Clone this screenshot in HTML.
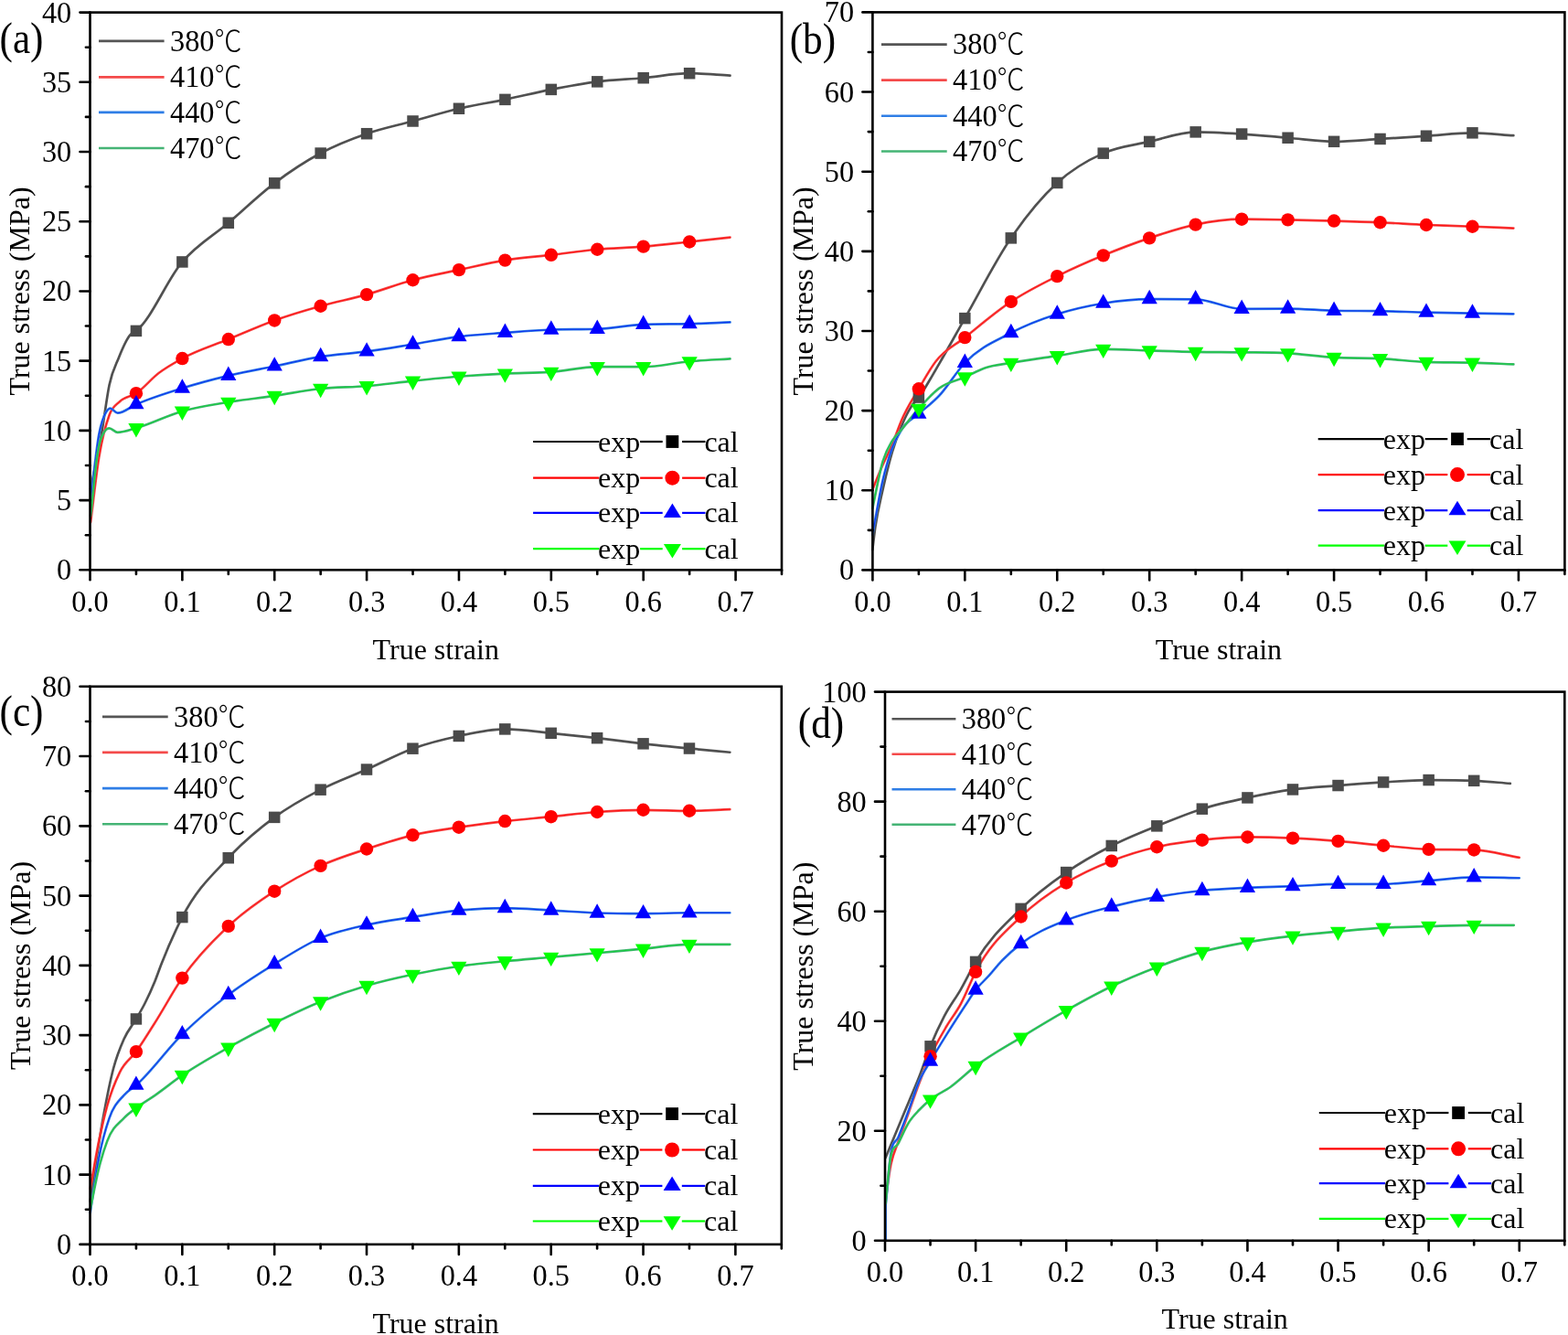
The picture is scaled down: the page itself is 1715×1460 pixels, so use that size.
<!DOCTYPE html>
<html><head><meta charset="utf-8"><title>True stress-strain curves</title>
<style>html,body{margin:0;padding:0;background:#fff;} svg{display:block;}</style>
</head><body>
<svg width="1715" height="1460" viewBox="0 0 1715 1460" font-family="'Liberation Serif','Times New Roman',serif" fill="#000">
<rect width="1715" height="1460" fill="#fff"/>
<path d="M99.10,534.69 C103.27,513.46 107.44,495.28 111.61,471.01 C114.26,455.56 116.91,433.71 119.57,420.97 C122.98,404.60 126.39,399.90 129.80,391.41 C133.97,381.03 138.14,371.13 142.31,366.39 C144.52,363.88 146.73,363.60 148.93,361.89 C165.74,348.88 182.56,306.13 199.37,286.44 C216.18,266.75 232.99,258.12 249.80,243.76 C266.61,229.41 283.42,213.02 300.23,200.32 C317.04,187.62 333.86,176.57 350.67,167.55 C367.48,158.53 384.29,152.05 401.10,146.21 C417.91,140.37 434.72,137.06 451.53,132.49 C468.34,127.92 485.16,122.71 501.97,118.77 C518.78,114.84 535.59,112.35 552.40,108.87 C569.21,105.39 586.02,101.14 602.83,97.89 C619.64,94.64 636.46,91.46 653.27,89.36 C670.08,87.25 686.89,86.76 703.70,85.24 C720.51,83.72 737.32,80.21 754.13,80.21 C768.93,80.21 783.72,81.84 798.51,82.65" fill="none" stroke="#555555" stroke-width="2.7" stroke-linejoin="round" stroke-linecap="round"/>
<path d="M99.10,534.69 C103.27,513.46 107.44,495.28 111.61,471.01 C114.26,455.56 116.91,433.71 119.57,420.97 C122.98,404.60 126.39,399.90 129.80,391.41 C133.97,381.03 138.14,371.13 142.31,366.39 C144.52,363.88 146.73,363.60 148.93,361.89 C165.74,348.88 182.56,306.13 199.37,286.44 C216.18,266.75 232.99,258.12 249.80,243.76 C266.61,229.41 283.42,213.02 300.23,200.32 C317.04,187.62 333.86,176.57 350.67,167.55 C367.48,158.53 384.29,152.05 401.10,146.21 C417.91,140.37 434.72,137.06 451.53,132.49 C468.34,127.92 485.16,122.71 501.97,118.77 C518.78,114.84 535.59,112.35 552.40,108.87 C569.21,105.39 586.02,101.14 602.83,97.89 C619.64,94.64 636.46,91.46 653.27,89.36 C670.08,87.25 686.89,86.76 703.70,85.24 C720.51,83.72 737.32,80.21 754.13,80.21 C768.93,80.21 783.72,81.84 798.51,82.65" fill="none" stroke="#4d4d4d" stroke-width="1.0" stroke-linejoin="round" stroke-linecap="round"/>
<path d="M99.10,571.07 C102.13,547.57 105.16,519.15 108.19,500.57 C111.98,477.34 115.78,464.18 119.57,453.95 C123.36,443.71 127.15,442.92 130.94,439.17 C136.94,433.23 142.93,434.18 148.93,430.18 C157.16,424.68 165.38,414.26 173.60,408.00 C182.19,401.46 190.78,396.80 199.37,392.07 C216.18,382.82 232.99,377.97 249.80,371.04 C266.61,364.10 283.42,356.51 300.23,350.46 C317.04,344.41 333.86,339.48 350.67,334.76 C367.48,330.03 384.29,326.86 401.10,322.11 C417.91,317.36 434.72,310.75 451.53,306.26 C468.34,301.76 485.16,298.74 501.97,295.13 C518.78,291.52 535.59,287.33 552.40,284.61 C569.21,281.89 586.02,280.80 602.83,278.82 C619.64,276.84 636.46,274.25 653.27,272.72 C670.08,271.20 686.89,271.05 703.70,269.67 C720.51,268.30 737.32,266.28 754.13,264.49 C768.93,262.92 783.72,261.24 798.51,259.61" fill="none" stroke="#f44a4a" stroke-width="2.7" stroke-linejoin="round" stroke-linecap="round"/>
<path d="M99.10,571.07 C102.13,547.57 105.16,519.15 108.19,500.57 C111.98,477.34 115.78,464.18 119.57,453.95 C123.36,443.71 127.15,442.92 130.94,439.17 C136.94,433.23 142.93,434.18 148.93,430.18 C157.16,424.68 165.38,414.26 173.60,408.00 C182.19,401.46 190.78,396.80 199.37,392.07 C216.18,382.82 232.99,377.97 249.80,371.04 C266.61,364.10 283.42,356.51 300.23,350.46 C317.04,344.41 333.86,339.48 350.67,334.76 C367.48,330.03 384.29,326.86 401.10,322.11 C417.91,317.36 434.72,310.75 451.53,306.26 C468.34,301.76 485.16,298.74 501.97,295.13 C518.78,291.52 535.59,287.33 552.40,284.61 C569.21,281.89 586.02,280.80 602.83,278.82 C619.64,276.84 636.46,274.25 653.27,272.72 C670.08,271.20 686.89,271.05 703.70,269.67 C720.51,268.30 737.32,266.28 754.13,264.49 C768.93,262.92 783.72,261.24 798.51,259.61" fill="none" stroke="#ff1010" stroke-width="1.0" stroke-linejoin="round" stroke-linecap="round"/>
<path d="M99.10,548.33 C102.13,524.07 105.16,491.96 108.19,475.55 C110.85,461.20 113.50,455.00 116.15,450.54 C117.67,447.98 119.19,446.67 120.70,446.67 C123.36,446.67 126.01,451.67 128.66,451.67 C135.42,451.67 142.18,445.15 148.93,442.22 C165.74,434.94 182.56,429.77 199.37,424.54 C216.18,419.30 232.99,414.83 249.80,410.82 C266.61,406.81 283.42,403.91 300.23,400.45 C317.04,397.00 333.86,392.76 350.67,390.09 C367.48,387.42 384.29,386.71 401.10,384.45 C417.91,382.19 434.72,379.24 451.53,376.52 C468.34,373.81 485.16,370.25 501.97,368.14 C518.78,366.03 535.59,365.14 552.40,363.87 C569.21,362.60 586.02,361.21 602.83,360.52 C619.64,359.83 636.46,360.52 653.27,359.76 C670.08,359.00 686.89,355.64 703.70,354.88 C720.51,354.12 737.32,354.57 754.13,354.12 C768.93,353.72 783.72,353.00 798.51,352.44" fill="none" stroke="#2f7ee6" stroke-width="2.7" stroke-linejoin="round" stroke-linecap="round"/>
<path d="M99.10,548.33 C102.13,524.07 105.16,491.96 108.19,475.55 C110.85,461.20 113.50,455.00 116.15,450.54 C117.67,447.98 119.19,446.67 120.70,446.67 C123.36,446.67 126.01,451.67 128.66,451.67 C135.42,451.67 142.18,445.15 148.93,442.22 C165.74,434.94 182.56,429.77 199.37,424.54 C216.18,419.30 232.99,414.83 249.80,410.82 C266.61,406.81 283.42,403.91 300.23,400.45 C317.04,397.00 333.86,392.76 350.67,390.09 C367.48,387.42 384.29,386.71 401.10,384.45 C417.91,382.19 434.72,379.24 451.53,376.52 C468.34,373.81 485.16,370.25 501.97,368.14 C518.78,366.03 535.59,365.14 552.40,363.87 C569.21,362.60 586.02,361.21 602.83,360.52 C619.64,359.83 636.46,360.52 653.27,359.76 C670.08,359.00 686.89,355.64 703.70,354.88 C720.51,354.12 737.32,354.57 754.13,354.12 C768.93,353.72 783.72,353.00 798.51,352.44" fill="none" stroke="#0c2cf0" stroke-width="1.0" stroke-linejoin="round" stroke-linecap="round"/>
<path d="M99.10,564.25 C101.75,540.75 104.40,509.29 107.06,493.75 C109.71,478.21 112.36,474.78 115.02,471.01 C116.53,468.85 118.05,468.28 119.57,468.28 C122.60,468.28 125.63,472.82 128.66,472.82 C135.42,472.82 142.18,469.96 148.93,468.13 C165.74,463.59 182.56,454.41 199.37,449.69 C216.18,444.96 232.99,442.57 249.80,439.78 C266.61,436.99 283.42,435.39 300.23,432.92 C317.04,430.46 333.86,426.77 350.67,425.00 C367.48,423.22 384.29,423.65 401.10,422.25 C417.91,420.85 434.72,418.36 451.53,416.61 C468.34,414.86 485.16,413.08 501.97,411.73 C518.78,410.39 535.59,409.35 552.40,408.53 C569.21,407.72 586.02,408.08 602.83,406.86 C619.64,405.64 636.46,401.22 653.27,401.22 C670.08,401.22 686.89,401.22 703.70,401.22 C720.51,401.22 737.32,396.78 754.13,395.27 C768.93,393.94 783.72,393.34 798.51,392.38" fill="none" stroke="#45b475" stroke-width="2.7" stroke-linejoin="round" stroke-linecap="round"/>
<path d="M99.10,564.25 C101.75,540.75 104.40,509.29 107.06,493.75 C109.71,478.21 112.36,474.78 115.02,471.01 C116.53,468.85 118.05,468.28 119.57,468.28 C122.60,468.28 125.63,472.82 128.66,472.82 C135.42,472.82 142.18,469.96 148.93,468.13 C165.74,463.59 182.56,454.41 199.37,449.69 C216.18,444.96 232.99,442.57 249.80,439.78 C266.61,436.99 283.42,435.39 300.23,432.92 C317.04,430.46 333.86,426.77 350.67,425.00 C367.48,423.22 384.29,423.65 401.10,422.25 C417.91,420.85 434.72,418.36 451.53,416.61 C468.34,414.86 485.16,413.08 501.97,411.73 C518.78,410.39 535.59,409.35 552.40,408.53 C569.21,407.72 586.02,408.08 602.83,406.86 C619.64,405.64 636.46,401.22 653.27,401.22 C670.08,401.22 686.89,401.22 703.70,401.22 C720.51,401.22 737.32,396.78 754.13,395.27 C768.93,393.94 783.72,393.34 798.51,392.38" fill="none" stroke="#14d03a" stroke-width="1.0" stroke-linejoin="round" stroke-linecap="round"/>
<rect x="142.68" y="355.64" width="12.50" height="12.50" fill="#4a4a4a"/>
<rect x="193.12" y="280.19" width="12.50" height="12.50" fill="#4a4a4a"/>
<rect x="243.55" y="237.51" width="12.50" height="12.50" fill="#4a4a4a"/>
<rect x="293.98" y="194.07" width="12.50" height="12.50" fill="#4a4a4a"/>
<rect x="344.42" y="161.30" width="12.50" height="12.50" fill="#4a4a4a"/>
<rect x="394.85" y="139.96" width="12.50" height="12.50" fill="#4a4a4a"/>
<rect x="445.28" y="126.24" width="12.50" height="12.50" fill="#4a4a4a"/>
<rect x="495.72" y="112.52" width="12.50" height="12.50" fill="#4a4a4a"/>
<rect x="546.15" y="102.62" width="12.50" height="12.50" fill="#4a4a4a"/>
<rect x="596.58" y="91.64" width="12.50" height="12.50" fill="#4a4a4a"/>
<rect x="647.02" y="83.11" width="12.50" height="12.50" fill="#4a4a4a"/>
<rect x="697.45" y="78.99" width="12.50" height="12.50" fill="#4a4a4a"/>
<rect x="747.88" y="73.96" width="12.50" height="12.50" fill="#4a4a4a"/>
<circle cx="148.93" cy="430.18" r="7.20" fill="#ff0000"/>
<circle cx="199.37" cy="392.07" r="7.20" fill="#ff0000"/>
<circle cx="249.80" cy="371.04" r="7.20" fill="#ff0000"/>
<circle cx="300.23" cy="350.46" r="7.20" fill="#ff0000"/>
<circle cx="350.67" cy="334.76" r="7.20" fill="#ff0000"/>
<circle cx="401.10" cy="322.11" r="7.20" fill="#ff0000"/>
<circle cx="451.53" cy="306.26" r="7.20" fill="#ff0000"/>
<circle cx="501.97" cy="295.13" r="7.20" fill="#ff0000"/>
<circle cx="552.40" cy="284.61" r="7.20" fill="#ff0000"/>
<circle cx="602.83" cy="278.82" r="7.20" fill="#ff0000"/>
<circle cx="653.27" cy="272.72" r="7.20" fill="#ff0000"/>
<circle cx="703.70" cy="269.67" r="7.20" fill="#ff0000"/>
<circle cx="754.13" cy="264.49" r="7.20" fill="#ff0000"/>
<path d="M148.93,431.95 L157.53,447.35 L140.33,447.35 Z" fill="#0000ff"/>
<path d="M199.37,414.27 L207.97,429.67 L190.77,429.67 Z" fill="#0000ff"/>
<path d="M249.80,400.55 L258.40,415.95 L241.20,415.95 Z" fill="#0000ff"/>
<path d="M300.23,390.19 L308.83,405.59 L291.63,405.59 Z" fill="#0000ff"/>
<path d="M350.67,379.82 L359.27,395.22 L342.07,395.22 Z" fill="#0000ff"/>
<path d="M401.10,374.18 L409.70,389.58 L392.50,389.58 Z" fill="#0000ff"/>
<path d="M451.53,366.26 L460.13,381.66 L442.93,381.66 Z" fill="#0000ff"/>
<path d="M501.97,357.87 L510.57,373.27 L493.37,373.27 Z" fill="#0000ff"/>
<path d="M552.40,353.61 L561.00,369.01 L543.80,369.01 Z" fill="#0000ff"/>
<path d="M602.83,350.25 L611.43,365.65 L594.23,365.65 Z" fill="#0000ff"/>
<path d="M653.27,349.49 L661.87,364.89 L644.67,364.89 Z" fill="#0000ff"/>
<path d="M703.70,344.61 L712.30,360.01 L695.10,360.01 Z" fill="#0000ff"/>
<path d="M754.13,343.85 L762.73,359.25 L745.53,359.25 Z" fill="#0000ff"/>
<path d="M140.33,463.00 L157.53,463.00 L148.93,478.40 Z" fill="#00ff00"/>
<path d="M190.77,444.55 L207.97,444.55 L199.37,459.95 Z" fill="#00ff00"/>
<path d="M241.20,434.65 L258.40,434.65 L249.80,450.05 Z" fill="#00ff00"/>
<path d="M291.63,427.79 L308.83,427.79 L300.23,443.19 Z" fill="#00ff00"/>
<path d="M342.07,419.86 L359.27,419.86 L350.67,435.26 Z" fill="#00ff00"/>
<path d="M392.50,417.12 L409.70,417.12 L401.10,432.52 Z" fill="#00ff00"/>
<path d="M442.93,411.48 L460.13,411.48 L451.53,426.88 Z" fill="#00ff00"/>
<path d="M493.37,406.60 L510.57,406.60 L501.97,422.00 Z" fill="#00ff00"/>
<path d="M543.80,403.40 L561.00,403.40 L552.40,418.80 Z" fill="#00ff00"/>
<path d="M594.23,401.72 L611.43,401.72 L602.83,417.12 Z" fill="#00ff00"/>
<path d="M644.67,396.08 L661.87,396.08 L653.27,411.48 Z" fill="#00ff00"/>
<path d="M695.10,396.08 L712.30,396.08 L703.70,411.48 Z" fill="#00ff00"/>
<path d="M745.53,390.14 L762.73,390.14 L754.13,405.54 Z" fill="#00ff00"/>
<rect x="98.5" y="13.6" width="756.50" height="609.70" fill="none" stroke="#000" stroke-width="2.6"/>
<line x1="98.50" y1="623.30" x2="98.50" y2="634.30" stroke="#000" stroke-width="2.6" stroke-linecap="round"/>
<text transform="translate(98.50,668.50) scale(1,1.06)" text-anchor="middle" font-size="32.3">0.0</text>
<line x1="148.93" y1="623.30" x2="148.93" y2="627.90" stroke="#000" stroke-width="2.6" stroke-linecap="round"/>
<line x1="199.37" y1="623.30" x2="199.37" y2="634.30" stroke="#000" stroke-width="2.6" stroke-linecap="round"/>
<text transform="translate(199.37,668.50) scale(1,1.06)" text-anchor="middle" font-size="32.3">0.1</text>
<line x1="249.80" y1="623.30" x2="249.80" y2="627.90" stroke="#000" stroke-width="2.6" stroke-linecap="round"/>
<line x1="300.23" y1="623.30" x2="300.23" y2="634.30" stroke="#000" stroke-width="2.6" stroke-linecap="round"/>
<text transform="translate(300.23,668.50) scale(1,1.06)" text-anchor="middle" font-size="32.3">0.2</text>
<line x1="350.67" y1="623.30" x2="350.67" y2="627.90" stroke="#000" stroke-width="2.6" stroke-linecap="round"/>
<line x1="401.10" y1="623.30" x2="401.10" y2="634.30" stroke="#000" stroke-width="2.6" stroke-linecap="round"/>
<text transform="translate(401.10,668.50) scale(1,1.06)" text-anchor="middle" font-size="32.3">0.3</text>
<line x1="451.53" y1="623.30" x2="451.53" y2="627.90" stroke="#000" stroke-width="2.6" stroke-linecap="round"/>
<line x1="501.97" y1="623.30" x2="501.97" y2="634.30" stroke="#000" stroke-width="2.6" stroke-linecap="round"/>
<text transform="translate(501.97,668.50) scale(1,1.06)" text-anchor="middle" font-size="32.3">0.4</text>
<line x1="552.40" y1="623.30" x2="552.40" y2="627.90" stroke="#000" stroke-width="2.6" stroke-linecap="round"/>
<line x1="602.83" y1="623.30" x2="602.83" y2="634.30" stroke="#000" stroke-width="2.6" stroke-linecap="round"/>
<text transform="translate(602.83,668.50) scale(1,1.06)" text-anchor="middle" font-size="32.3">0.5</text>
<line x1="653.27" y1="623.30" x2="653.27" y2="627.90" stroke="#000" stroke-width="2.6" stroke-linecap="round"/>
<line x1="703.70" y1="623.30" x2="703.70" y2="634.30" stroke="#000" stroke-width="2.6" stroke-linecap="round"/>
<text transform="translate(703.70,668.50) scale(1,1.06)" text-anchor="middle" font-size="32.3">0.6</text>
<line x1="754.13" y1="623.30" x2="754.13" y2="627.90" stroke="#000" stroke-width="2.6" stroke-linecap="round"/>
<line x1="804.57" y1="623.30" x2="804.57" y2="634.30" stroke="#000" stroke-width="2.6" stroke-linecap="round"/>
<text transform="translate(804.57,668.50) scale(1,1.06)" text-anchor="middle" font-size="32.3">0.7</text>
<line x1="855.00" y1="623.30" x2="855.00" y2="627.90" stroke="#000" stroke-width="2.6" stroke-linecap="round"/>
<line x1="87.50" y1="623.30" x2="98.50" y2="623.30" stroke="#000" stroke-width="2.6" stroke-linecap="round"/>
<text transform="translate(78.20,634.30) scale(1,1.06)" text-anchor="end" font-size="32.3">0</text>
<line x1="93.90" y1="585.19" x2="98.50" y2="585.19" stroke="#000" stroke-width="2.6" stroke-linecap="round"/>
<line x1="87.50" y1="547.09" x2="98.50" y2="547.09" stroke="#000" stroke-width="2.6" stroke-linecap="round"/>
<text transform="translate(78.20,558.09) scale(1,1.06)" text-anchor="end" font-size="32.3">5</text>
<line x1="93.90" y1="508.98" x2="98.50" y2="508.98" stroke="#000" stroke-width="2.6" stroke-linecap="round"/>
<line x1="87.50" y1="470.88" x2="98.50" y2="470.88" stroke="#000" stroke-width="2.6" stroke-linecap="round"/>
<text transform="translate(78.20,481.88) scale(1,1.06)" text-anchor="end" font-size="32.3">10</text>
<line x1="93.90" y1="432.77" x2="98.50" y2="432.77" stroke="#000" stroke-width="2.6" stroke-linecap="round"/>
<line x1="87.50" y1="394.66" x2="98.50" y2="394.66" stroke="#000" stroke-width="2.6" stroke-linecap="round"/>
<text transform="translate(78.20,405.66) scale(1,1.06)" text-anchor="end" font-size="32.3">15</text>
<line x1="93.90" y1="356.56" x2="98.50" y2="356.56" stroke="#000" stroke-width="2.6" stroke-linecap="round"/>
<line x1="87.50" y1="318.45" x2="98.50" y2="318.45" stroke="#000" stroke-width="2.6" stroke-linecap="round"/>
<text transform="translate(78.20,329.45) scale(1,1.06)" text-anchor="end" font-size="32.3">20</text>
<line x1="93.90" y1="280.34" x2="98.50" y2="280.34" stroke="#000" stroke-width="2.6" stroke-linecap="round"/>
<line x1="87.50" y1="242.24" x2="98.50" y2="242.24" stroke="#000" stroke-width="2.6" stroke-linecap="round"/>
<text transform="translate(78.20,253.24) scale(1,1.06)" text-anchor="end" font-size="32.3">25</text>
<line x1="93.90" y1="204.13" x2="98.50" y2="204.13" stroke="#000" stroke-width="2.6" stroke-linecap="round"/>
<line x1="87.50" y1="166.02" x2="98.50" y2="166.02" stroke="#000" stroke-width="2.6" stroke-linecap="round"/>
<text transform="translate(78.20,177.02) scale(1,1.06)" text-anchor="end" font-size="32.3">30</text>
<line x1="93.90" y1="127.92" x2="98.50" y2="127.92" stroke="#000" stroke-width="2.6" stroke-linecap="round"/>
<line x1="87.50" y1="89.81" x2="98.50" y2="89.81" stroke="#000" stroke-width="2.6" stroke-linecap="round"/>
<text transform="translate(78.20,100.81) scale(1,1.06)" text-anchor="end" font-size="32.3">35</text>
<line x1="93.90" y1="51.71" x2="98.50" y2="51.71" stroke="#000" stroke-width="2.6" stroke-linecap="round"/>
<line x1="87.50" y1="13.60" x2="98.50" y2="13.60" stroke="#000" stroke-width="2.6" stroke-linecap="round"/>
<text transform="translate(78.20,24.60) scale(1,1.06)" text-anchor="end" font-size="32.3">40</text>
<text x="476.75" y="720.70" text-anchor="middle" font-size="32">True strain</text>
<text transform="translate(32.20,318.45) rotate(-90)" x="0" y="0" text-anchor="middle" font-size="32">True stress (MPa)</text>
<text transform="translate(-0.50,58.40) scale(0.9,1)" x="0" y="0" font-size="48">(a)</text>
<line x1="108.00" y1="44.90" x2="179.60" y2="44.90" stroke="#555555" stroke-width="2.6"/>
<text transform="translate(186.00,55.70) scale(1,1.06)" font-size="32.3">380<tspan font-family="'Liberation Serif','Noto Sans CJK SC',sans-serif" font-weight="300" font-size="30">℃</tspan></text>
<line x1="108.00" y1="84.40" x2="179.60" y2="84.40" stroke="#f44a4a" stroke-width="2.6"/>
<text transform="translate(186.00,95.20) scale(1,1.06)" font-size="32.3">410<tspan font-family="'Liberation Serif','Noto Sans CJK SC',sans-serif" font-weight="300" font-size="30">℃</tspan></text>
<line x1="108.00" y1="122.90" x2="179.60" y2="122.90" stroke="#2f7ee6" stroke-width="2.6"/>
<text transform="translate(186.00,133.70) scale(1,1.06)" font-size="32.3">440<tspan font-family="'Liberation Serif','Noto Sans CJK SC',sans-serif" font-weight="300" font-size="30">℃</tspan></text>
<line x1="108.00" y1="162.00" x2="179.60" y2="162.00" stroke="#45b475" stroke-width="2.6"/>
<text transform="translate(186.00,172.80) scale(1,1.06)" font-size="32.3">470<tspan font-family="'Liberation Serif','Noto Sans CJK SC',sans-serif" font-weight="300" font-size="30">℃</tspan></text>
<line x1="583.10" y1="483.00" x2="655.30" y2="483.00" stroke="#000000" stroke-width="2.2"/>
<text x="654.10" y="493.50" font-size="32">exp</text>
<line x1="700.10" y1="483.00" x2="724.70" y2="483.00" stroke="#000000" stroke-width="2.2"/>
<line x1="746.10" y1="483.00" x2="771.50" y2="483.00" stroke="#000000" stroke-width="2.2"/>
<rect x="728.50" y="476.10" width="13.80" height="13.80" fill="#000000"/>
<text x="770.40" y="493.50" font-size="32">cal</text>
<line x1="583.10" y1="522.70" x2="655.30" y2="522.70" stroke="#ff0000" stroke-width="2.2"/>
<text x="654.10" y="533.20" font-size="32">exp</text>
<line x1="700.10" y1="522.70" x2="724.70" y2="522.70" stroke="#ff0000" stroke-width="2.2"/>
<line x1="746.10" y1="522.70" x2="771.50" y2="522.70" stroke="#ff0000" stroke-width="2.2"/>
<circle cx="735.40" cy="522.70" r="8.00" fill="#ff0000"/>
<text x="770.40" y="533.20" font-size="32">cal</text>
<line x1="583.10" y1="560.90" x2="655.30" y2="560.90" stroke="#0000ff" stroke-width="2.2"/>
<text x="654.10" y="571.40" font-size="32">exp</text>
<line x1="700.10" y1="560.90" x2="724.70" y2="560.90" stroke="#0000ff" stroke-width="2.2"/>
<line x1="746.10" y1="560.90" x2="771.50" y2="560.90" stroke="#0000ff" stroke-width="2.2"/>
<path d="M735.40,550.57 L744.90,566.07 L725.90,566.07 Z" fill="#0000ff"/>
<text x="770.40" y="571.40" font-size="32">cal</text>
<line x1="583.10" y1="600.20" x2="655.30" y2="600.20" stroke="#00ff00" stroke-width="2.2"/>
<text x="654.10" y="610.70" font-size="32">exp</text>
<line x1="700.10" y1="600.20" x2="724.70" y2="600.20" stroke="#00ff00" stroke-width="2.2"/>
<line x1="746.10" y1="600.20" x2="771.50" y2="600.20" stroke="#00ff00" stroke-width="2.2"/>
<path d="M725.90,595.03 L744.90,595.03 L735.40,610.53 Z" fill="#00ff00"/>
<text x="770.40" y="610.70" font-size="32">cal</text>
<path d="M954.25,601.33 C955.28,593.10 956.31,584.04 957.33,576.66 C960.07,556.98 962.81,548.04 965.55,535.55 C968.98,519.94 972.41,506.09 975.83,494.44 C979.26,482.79 982.68,473.88 986.11,465.66 C989.54,457.44 992.96,450.54 996.39,445.11 C999.21,440.63 1002.04,438.39 1004.87,434.56 C1012.32,424.48 1019.77,410.49 1027.22,397.83 C1036.59,381.91 1045.96,364.59 1055.33,348.12 C1072.16,318.55 1088.98,285.05 1105.80,260.36 C1122.62,235.67 1139.44,215.43 1156.27,199.97 C1173.09,184.52 1189.91,175.15 1206.73,167.64 C1223.56,160.13 1240.38,158.80 1257.20,154.92 C1274.02,151.04 1290.84,144.38 1307.67,144.38 C1324.49,144.38 1341.31,145.49 1358.13,146.55 C1374.96,147.61 1391.78,149.36 1408.60,150.74 C1425.42,152.12 1442.24,154.83 1459.07,154.83 C1475.89,154.83 1492.71,152.97 1509.53,151.96 C1526.36,150.94 1543.18,149.84 1560.00,148.73 C1576.82,147.63 1593.64,145.33 1610.47,145.33 C1625.44,145.33 1640.41,147.25 1655.38,148.21" fill="none" stroke="#555555" stroke-width="2.7" stroke-linejoin="round" stroke-linecap="round"/>
<path d="M954.25,601.33 C955.28,593.10 956.31,584.04 957.33,576.66 C960.07,556.98 962.81,548.04 965.55,535.55 C968.98,519.94 972.41,506.09 975.83,494.44 C979.26,482.79 982.68,473.88 986.11,465.66 C989.54,457.44 992.96,450.54 996.39,445.11 C999.21,440.63 1002.04,438.39 1004.87,434.56 C1012.32,424.48 1019.77,410.49 1027.22,397.83 C1036.59,381.91 1045.96,364.59 1055.33,348.12 C1072.16,318.55 1088.98,285.05 1105.80,260.36 C1122.62,235.67 1139.44,215.43 1156.27,199.97 C1173.09,184.52 1189.91,175.15 1206.73,167.64 C1223.56,160.13 1240.38,158.80 1257.20,154.92 C1274.02,151.04 1290.84,144.38 1307.67,144.38 C1324.49,144.38 1341.31,145.49 1358.13,146.55 C1374.96,147.61 1391.78,149.36 1408.60,150.74 C1425.42,152.12 1442.24,154.83 1459.07,154.83 C1475.89,154.83 1492.71,152.97 1509.53,151.96 C1526.36,150.94 1543.18,149.84 1560.00,148.73 C1576.82,147.63 1593.64,145.33 1610.47,145.33 C1625.44,145.33 1640.41,147.25 1655.38,148.21" fill="none" stroke="#4d4d4d" stroke-width="1.0" stroke-linejoin="round" stroke-linecap="round"/>
<path d="M954.25,535.55 C957.33,528.01 960.42,520.11 963.50,512.94 C967.61,503.38 971.72,496.10 975.83,486.22 C979.26,477.99 982.68,467.46 986.11,459.50 C992.36,444.96 998.61,436.07 1004.87,425.32 C1010.95,414.87 1017.03,403.88 1023.11,395.78 C1033.85,381.45 1044.59,377.79 1055.33,369.12 C1072.16,355.53 1088.98,341.07 1105.80,329.90 C1122.62,318.73 1139.44,310.53 1156.27,302.10 C1173.09,293.68 1189.91,286.32 1206.73,279.36 C1223.56,272.40 1240.38,265.98 1257.20,260.36 C1274.02,254.74 1290.84,249.08 1307.67,245.64 C1324.49,242.19 1341.31,239.71 1358.13,239.71 C1374.96,239.71 1391.78,240.10 1408.60,240.41 C1425.42,240.71 1442.24,241.06 1459.07,241.54 C1475.89,242.02 1492.71,242.54 1509.53,243.28 C1526.36,244.02 1543.18,245.24 1560.00,245.98 C1576.82,246.72 1593.64,247.09 1610.47,247.73 C1625.44,248.29 1640.41,248.95 1655.38,249.56" fill="none" stroke="#f44a4a" stroke-width="2.7" stroke-linejoin="round" stroke-linecap="round"/>
<path d="M954.25,535.55 C957.33,528.01 960.42,520.11 963.50,512.94 C967.61,503.38 971.72,496.10 975.83,486.22 C979.26,477.99 982.68,467.46 986.11,459.50 C992.36,444.96 998.61,436.07 1004.87,425.32 C1010.95,414.87 1017.03,403.88 1023.11,395.78 C1033.85,381.45 1044.59,377.79 1055.33,369.12 C1072.16,355.53 1088.98,341.07 1105.80,329.90 C1122.62,318.73 1139.44,310.53 1156.27,302.10 C1173.09,293.68 1189.91,286.32 1206.73,279.36 C1223.56,272.40 1240.38,265.98 1257.20,260.36 C1274.02,254.74 1290.84,249.08 1307.67,245.64 C1324.49,242.19 1341.31,239.71 1358.13,239.71 C1374.96,239.71 1391.78,240.10 1408.60,240.41 C1425.42,240.71 1442.24,241.06 1459.07,241.54 C1475.89,242.02 1492.71,242.54 1509.53,243.28 C1526.36,244.02 1543.18,245.24 1560.00,245.98 C1576.82,246.72 1593.64,247.09 1610.47,247.73 C1625.44,248.29 1640.41,248.95 1655.38,249.56" fill="none" stroke="#ff1010" stroke-width="1.0" stroke-linejoin="round" stroke-linecap="round"/>
<path d="M954.25,584.88 C958.02,565.01 961.79,541.45 965.55,525.27 C968.98,510.57 972.41,499.58 975.83,490.33 C979.26,481.08 982.68,475.31 986.11,469.77 C992.36,459.67 998.61,458.24 1004.87,452.60 C1012.32,445.88 1019.77,440.68 1027.22,432.77 C1036.59,422.84 1045.96,406.70 1055.33,396.83 C1072.16,379.11 1088.98,372.94 1105.80,364.06 C1122.62,355.19 1139.44,348.97 1156.27,343.58 C1173.09,338.20 1189.91,334.48 1206.73,331.73 C1223.56,328.99 1240.38,327.11 1257.20,327.11 C1274.02,327.11 1290.84,327.11 1307.67,327.29 C1324.49,327.46 1341.31,337.83 1358.13,337.83 C1374.96,337.83 1391.78,337.57 1408.60,337.57 C1425.42,337.57 1442.24,339.31 1459.07,339.75 C1475.89,340.19 1492.71,339.87 1509.53,340.19 C1526.36,340.51 1543.18,341.26 1560.00,341.67 C1576.82,342.07 1593.64,342.34 1610.47,342.63 C1625.44,342.88 1640.41,343.09 1655.38,343.32" fill="none" stroke="#2f7ee6" stroke-width="2.7" stroke-linejoin="round" stroke-linecap="round"/>
<path d="M954.25,584.88 C958.02,565.01 961.79,541.45 965.55,525.27 C968.98,510.57 972.41,499.58 975.83,490.33 C979.26,481.08 982.68,475.31 986.11,469.77 C992.36,459.67 998.61,458.24 1004.87,452.60 C1012.32,445.88 1019.77,440.68 1027.22,432.77 C1036.59,422.84 1045.96,406.70 1055.33,396.83 C1072.16,379.11 1088.98,372.94 1105.80,364.06 C1122.62,355.19 1139.44,348.97 1156.27,343.58 C1173.09,338.20 1189.91,334.48 1206.73,331.73 C1223.56,328.99 1240.38,327.11 1257.20,327.11 C1274.02,327.11 1290.84,327.11 1307.67,327.29 C1324.49,327.46 1341.31,337.83 1358.13,337.83 C1374.96,337.83 1391.78,337.57 1408.60,337.57 C1425.42,337.57 1442.24,339.31 1459.07,339.75 C1475.89,340.19 1492.71,339.87 1509.53,340.19 C1526.36,340.51 1543.18,341.26 1560.00,341.67 C1576.82,342.07 1593.64,342.34 1610.47,342.63 C1625.44,342.88 1640.41,343.09 1655.38,343.32" fill="none" stroke="#0c2cf0" stroke-width="1.0" stroke-linejoin="round" stroke-linecap="round"/>
<path d="M954.25,556.10 C958.02,538.98 961.79,517.22 965.55,504.72 C968.98,493.35 972.41,487.93 975.83,482.11 C979.26,476.28 982.68,473.92 986.11,469.77 C992.36,462.21 998.61,453.77 1004.87,446.76 C1012.32,438.41 1019.77,430.10 1027.22,424.55 C1036.59,417.58 1045.96,416.57 1055.33,412.43 C1063.09,409.00 1070.85,404.50 1078.61,401.94 C1087.67,398.96 1096.74,398.42 1105.80,396.83 C1122.62,393.88 1139.44,391.66 1156.27,389.16 C1173.09,386.66 1189.91,381.84 1206.73,381.84 C1223.56,381.84 1240.38,382.90 1257.20,383.41 C1274.02,383.92 1290.84,384.57 1307.67,384.89 C1324.49,385.21 1341.31,385.09 1358.13,385.33 C1374.96,385.56 1391.78,385.35 1408.60,386.28 C1425.42,387.21 1442.24,389.93 1459.07,390.90 C1475.89,391.88 1492.71,391.28 1509.53,392.12 C1526.36,392.97 1543.18,395.26 1560.00,395.96 C1576.82,396.65 1593.64,396.20 1610.47,396.65 C1625.44,397.06 1640.41,397.82 1655.38,398.40" fill="none" stroke="#45b475" stroke-width="2.7" stroke-linejoin="round" stroke-linecap="round"/>
<path d="M954.25,556.10 C958.02,538.98 961.79,517.22 965.55,504.72 C968.98,493.35 972.41,487.93 975.83,482.11 C979.26,476.28 982.68,473.92 986.11,469.77 C992.36,462.21 998.61,453.77 1004.87,446.76 C1012.32,438.41 1019.77,430.10 1027.22,424.55 C1036.59,417.58 1045.96,416.57 1055.33,412.43 C1063.09,409.00 1070.85,404.50 1078.61,401.94 C1087.67,398.96 1096.74,398.42 1105.80,396.83 C1122.62,393.88 1139.44,391.66 1156.27,389.16 C1173.09,386.66 1189.91,381.84 1206.73,381.84 C1223.56,381.84 1240.38,382.90 1257.20,383.41 C1274.02,383.92 1290.84,384.57 1307.67,384.89 C1324.49,385.21 1341.31,385.09 1358.13,385.33 C1374.96,385.56 1391.78,385.35 1408.60,386.28 C1425.42,387.21 1442.24,389.93 1459.07,390.90 C1475.89,391.88 1492.71,391.28 1509.53,392.12 C1526.36,392.97 1543.18,395.26 1560.00,395.96 C1576.82,396.65 1593.64,396.20 1610.47,396.65 C1625.44,397.06 1640.41,397.82 1655.38,398.40" fill="none" stroke="#14d03a" stroke-width="1.0" stroke-linejoin="round" stroke-linecap="round"/>
<rect x="998.62" y="428.31" width="12.50" height="12.50" fill="#4a4a4a"/>
<rect x="1049.08" y="341.87" width="12.50" height="12.50" fill="#4a4a4a"/>
<rect x="1099.55" y="254.11" width="12.50" height="12.50" fill="#4a4a4a"/>
<rect x="1150.02" y="193.72" width="12.50" height="12.50" fill="#4a4a4a"/>
<rect x="1200.48" y="161.39" width="12.50" height="12.50" fill="#4a4a4a"/>
<rect x="1250.95" y="148.67" width="12.50" height="12.50" fill="#4a4a4a"/>
<rect x="1301.42" y="138.13" width="12.50" height="12.50" fill="#4a4a4a"/>
<rect x="1351.88" y="140.30" width="12.50" height="12.50" fill="#4a4a4a"/>
<rect x="1402.35" y="144.49" width="12.50" height="12.50" fill="#4a4a4a"/>
<rect x="1452.82" y="148.58" width="12.50" height="12.50" fill="#4a4a4a"/>
<rect x="1503.28" y="145.71" width="12.50" height="12.50" fill="#4a4a4a"/>
<rect x="1553.75" y="142.48" width="12.50" height="12.50" fill="#4a4a4a"/>
<rect x="1604.22" y="139.08" width="12.50" height="12.50" fill="#4a4a4a"/>
<circle cx="1004.87" cy="425.32" r="7.20" fill="#ff0000"/>
<circle cx="1055.33" cy="369.12" r="7.20" fill="#ff0000"/>
<circle cx="1105.80" cy="329.90" r="7.20" fill="#ff0000"/>
<circle cx="1156.27" cy="302.10" r="7.20" fill="#ff0000"/>
<circle cx="1206.73" cy="279.36" r="7.20" fill="#ff0000"/>
<circle cx="1257.20" cy="260.36" r="7.20" fill="#ff0000"/>
<circle cx="1307.67" cy="245.64" r="7.20" fill="#ff0000"/>
<circle cx="1358.13" cy="239.71" r="7.20" fill="#ff0000"/>
<circle cx="1408.60" cy="240.41" r="7.20" fill="#ff0000"/>
<circle cx="1459.07" cy="241.54" r="7.20" fill="#ff0000"/>
<circle cx="1509.53" cy="243.28" r="7.20" fill="#ff0000"/>
<circle cx="1560.00" cy="245.98" r="7.20" fill="#ff0000"/>
<circle cx="1610.47" cy="247.73" r="7.20" fill="#ff0000"/>
<path d="M1004.87,442.33 L1013.47,457.73 L996.27,457.73 Z" fill="#0000ff"/>
<path d="M1055.33,386.56 L1063.93,401.96 L1046.73,401.96 Z" fill="#0000ff"/>
<path d="M1105.80,353.80 L1114.40,369.20 L1097.20,369.20 Z" fill="#0000ff"/>
<path d="M1156.27,333.32 L1164.87,348.72 L1147.67,348.72 Z" fill="#0000ff"/>
<path d="M1206.73,321.47 L1215.33,336.87 L1198.13,336.87 Z" fill="#0000ff"/>
<path d="M1257.20,316.85 L1265.80,332.25 L1248.60,332.25 Z" fill="#0000ff"/>
<path d="M1307.67,317.02 L1316.27,332.42 L1299.07,332.42 Z" fill="#0000ff"/>
<path d="M1358.13,327.57 L1366.73,342.97 L1349.53,342.97 Z" fill="#0000ff"/>
<path d="M1408.60,327.30 L1417.20,342.70 L1400.00,342.70 Z" fill="#0000ff"/>
<path d="M1459.07,329.48 L1467.67,344.88 L1450.47,344.88 Z" fill="#0000ff"/>
<path d="M1509.53,329.92 L1518.13,345.32 L1500.93,345.32 Z" fill="#0000ff"/>
<path d="M1560.00,331.40 L1568.60,346.80 L1551.40,346.80 Z" fill="#0000ff"/>
<path d="M1610.47,332.36 L1619.07,347.76 L1601.87,347.76 Z" fill="#0000ff"/>
<path d="M996.27,441.63 L1013.47,441.63 L1004.87,457.03 Z" fill="#00ff00"/>
<path d="M1046.73,407.29 L1063.93,407.29 L1055.33,422.69 Z" fill="#00ff00"/>
<path d="M1097.20,391.70 L1114.40,391.70 L1105.80,407.10 Z" fill="#00ff00"/>
<path d="M1147.67,384.03 L1164.87,384.03 L1156.27,399.43 Z" fill="#00ff00"/>
<path d="M1198.13,376.71 L1215.33,376.71 L1206.73,392.11 Z" fill="#00ff00"/>
<path d="M1248.60,378.28 L1265.80,378.28 L1257.20,393.68 Z" fill="#00ff00"/>
<path d="M1299.07,379.76 L1316.27,379.76 L1307.67,395.16 Z" fill="#00ff00"/>
<path d="M1349.53,380.19 L1366.73,380.19 L1358.13,395.59 Z" fill="#00ff00"/>
<path d="M1400.00,381.15 L1417.20,381.15 L1408.60,396.55 Z" fill="#00ff00"/>
<path d="M1450.47,385.77 L1467.67,385.77 L1459.07,401.17 Z" fill="#00ff00"/>
<path d="M1500.93,386.99 L1518.13,386.99 L1509.53,402.39 Z" fill="#00ff00"/>
<path d="M1551.40,390.82 L1568.60,390.82 L1560.00,406.22 Z" fill="#00ff00"/>
<path d="M1601.87,391.52 L1619.07,391.52 L1610.47,406.92 Z" fill="#00ff00"/>
<rect x="954.4" y="13.4" width="757.00" height="610.00" fill="none" stroke="#000" stroke-width="2.6"/>
<line x1="954.40" y1="623.40" x2="954.40" y2="634.40" stroke="#000" stroke-width="2.6" stroke-linecap="round"/>
<text transform="translate(954.40,668.60) scale(1,1.06)" text-anchor="middle" font-size="32.3">0.0</text>
<line x1="1004.87" y1="623.40" x2="1004.87" y2="628.00" stroke="#000" stroke-width="2.6" stroke-linecap="round"/>
<line x1="1055.33" y1="623.40" x2="1055.33" y2="634.40" stroke="#000" stroke-width="2.6" stroke-linecap="round"/>
<text transform="translate(1055.33,668.60) scale(1,1.06)" text-anchor="middle" font-size="32.3">0.1</text>
<line x1="1105.80" y1="623.40" x2="1105.80" y2="628.00" stroke="#000" stroke-width="2.6" stroke-linecap="round"/>
<line x1="1156.27" y1="623.40" x2="1156.27" y2="634.40" stroke="#000" stroke-width="2.6" stroke-linecap="round"/>
<text transform="translate(1156.27,668.60) scale(1,1.06)" text-anchor="middle" font-size="32.3">0.2</text>
<line x1="1206.73" y1="623.40" x2="1206.73" y2="628.00" stroke="#000" stroke-width="2.6" stroke-linecap="round"/>
<line x1="1257.20" y1="623.40" x2="1257.20" y2="634.40" stroke="#000" stroke-width="2.6" stroke-linecap="round"/>
<text transform="translate(1257.20,668.60) scale(1,1.06)" text-anchor="middle" font-size="32.3">0.3</text>
<line x1="1307.67" y1="623.40" x2="1307.67" y2="628.00" stroke="#000" stroke-width="2.6" stroke-linecap="round"/>
<line x1="1358.13" y1="623.40" x2="1358.13" y2="634.40" stroke="#000" stroke-width="2.6" stroke-linecap="round"/>
<text transform="translate(1358.13,668.60) scale(1,1.06)" text-anchor="middle" font-size="32.3">0.4</text>
<line x1="1408.60" y1="623.40" x2="1408.60" y2="628.00" stroke="#000" stroke-width="2.6" stroke-linecap="round"/>
<line x1="1459.07" y1="623.40" x2="1459.07" y2="634.40" stroke="#000" stroke-width="2.6" stroke-linecap="round"/>
<text transform="translate(1459.07,668.60) scale(1,1.06)" text-anchor="middle" font-size="32.3">0.5</text>
<line x1="1509.53" y1="623.40" x2="1509.53" y2="628.00" stroke="#000" stroke-width="2.6" stroke-linecap="round"/>
<line x1="1560.00" y1="623.40" x2="1560.00" y2="634.40" stroke="#000" stroke-width="2.6" stroke-linecap="round"/>
<text transform="translate(1560.00,668.60) scale(1,1.06)" text-anchor="middle" font-size="32.3">0.6</text>
<line x1="1610.47" y1="623.40" x2="1610.47" y2="628.00" stroke="#000" stroke-width="2.6" stroke-linecap="round"/>
<line x1="1660.93" y1="623.40" x2="1660.93" y2="634.40" stroke="#000" stroke-width="2.6" stroke-linecap="round"/>
<text transform="translate(1660.93,668.60) scale(1,1.06)" text-anchor="middle" font-size="32.3">0.7</text>
<line x1="1711.40" y1="623.40" x2="1711.40" y2="628.00" stroke="#000" stroke-width="2.6" stroke-linecap="round"/>
<line x1="943.40" y1="623.40" x2="954.40" y2="623.40" stroke="#000" stroke-width="2.6" stroke-linecap="round"/>
<text transform="translate(934.10,634.40) scale(1,1.06)" text-anchor="end" font-size="32.3">0</text>
<line x1="949.80" y1="579.83" x2="954.40" y2="579.83" stroke="#000" stroke-width="2.6" stroke-linecap="round"/>
<line x1="943.40" y1="536.26" x2="954.40" y2="536.26" stroke="#000" stroke-width="2.6" stroke-linecap="round"/>
<text transform="translate(934.10,547.26) scale(1,1.06)" text-anchor="end" font-size="32.3">10</text>
<line x1="949.80" y1="492.69" x2="954.40" y2="492.69" stroke="#000" stroke-width="2.6" stroke-linecap="round"/>
<line x1="943.40" y1="449.11" x2="954.40" y2="449.11" stroke="#000" stroke-width="2.6" stroke-linecap="round"/>
<text transform="translate(934.10,460.11) scale(1,1.06)" text-anchor="end" font-size="32.3">20</text>
<line x1="949.80" y1="405.54" x2="954.40" y2="405.54" stroke="#000" stroke-width="2.6" stroke-linecap="round"/>
<line x1="943.40" y1="361.97" x2="954.40" y2="361.97" stroke="#000" stroke-width="2.6" stroke-linecap="round"/>
<text transform="translate(934.10,372.97) scale(1,1.06)" text-anchor="end" font-size="32.3">30</text>
<line x1="949.80" y1="318.40" x2="954.40" y2="318.40" stroke="#000" stroke-width="2.6" stroke-linecap="round"/>
<line x1="943.40" y1="274.83" x2="954.40" y2="274.83" stroke="#000" stroke-width="2.6" stroke-linecap="round"/>
<text transform="translate(934.10,285.83) scale(1,1.06)" text-anchor="end" font-size="32.3">40</text>
<line x1="949.80" y1="231.26" x2="954.40" y2="231.26" stroke="#000" stroke-width="2.6" stroke-linecap="round"/>
<line x1="943.40" y1="187.69" x2="954.40" y2="187.69" stroke="#000" stroke-width="2.6" stroke-linecap="round"/>
<text transform="translate(934.10,198.69) scale(1,1.06)" text-anchor="end" font-size="32.3">50</text>
<line x1="949.80" y1="144.11" x2="954.40" y2="144.11" stroke="#000" stroke-width="2.6" stroke-linecap="round"/>
<line x1="943.40" y1="100.54" x2="954.40" y2="100.54" stroke="#000" stroke-width="2.6" stroke-linecap="round"/>
<text transform="translate(934.10,111.54) scale(1,1.06)" text-anchor="end" font-size="32.3">60</text>
<line x1="949.80" y1="56.97" x2="954.40" y2="56.97" stroke="#000" stroke-width="2.6" stroke-linecap="round"/>
<line x1="943.40" y1="13.40" x2="954.40" y2="13.40" stroke="#000" stroke-width="2.6" stroke-linecap="round"/>
<text transform="translate(934.10,24.40) scale(1,1.06)" text-anchor="end" font-size="32.3">70</text>
<text x="1332.90" y="720.80" text-anchor="middle" font-size="32">True strain</text>
<text transform="translate(888.80,318.40) rotate(-90)" x="0" y="0" text-anchor="middle" font-size="32">True stress (MPa)</text>
<text transform="translate(863.70,58.60) scale(0.9,1)" x="0" y="0" font-size="48">(b)</text>
<line x1="964.00" y1="48.60" x2="1035.70" y2="48.60" stroke="#555555" stroke-width="2.6"/>
<text transform="translate(1042.10,59.40) scale(1,1.06)" font-size="32.3">380<tspan font-family="'Liberation Serif','Noto Sans CJK SC',sans-serif" font-weight="300" font-size="30">℃</tspan></text>
<line x1="964.00" y1="87.60" x2="1035.70" y2="87.60" stroke="#f44a4a" stroke-width="2.6"/>
<text transform="translate(1042.10,98.40) scale(1,1.06)" font-size="32.3">410<tspan font-family="'Liberation Serif','Noto Sans CJK SC',sans-serif" font-weight="300" font-size="30">℃</tspan></text>
<line x1="964.00" y1="126.70" x2="1035.70" y2="126.70" stroke="#2f7ee6" stroke-width="2.6"/>
<text transform="translate(1042.10,137.50) scale(1,1.06)" font-size="32.3">440<tspan font-family="'Liberation Serif','Noto Sans CJK SC',sans-serif" font-weight="300" font-size="30">℃</tspan></text>
<line x1="964.00" y1="165.50" x2="1035.70" y2="165.50" stroke="#45b475" stroke-width="2.6"/>
<text transform="translate(1042.10,176.30) scale(1,1.06)" font-size="32.3">470<tspan font-family="'Liberation Serif','Noto Sans CJK SC',sans-serif" font-weight="300" font-size="30">℃</tspan></text>
<line x1="1441.70" y1="480.10" x2="1513.90" y2="480.10" stroke="#000000" stroke-width="2.2"/>
<text x="1512.70" y="490.60" font-size="32">exp</text>
<line x1="1558.70" y1="480.10" x2="1583.30" y2="480.10" stroke="#000000" stroke-width="2.2"/>
<line x1="1604.70" y1="480.10" x2="1630.10" y2="480.10" stroke="#000000" stroke-width="2.2"/>
<rect x="1587.10" y="473.20" width="13.80" height="13.80" fill="#000000"/>
<text x="1629.00" y="490.60" font-size="32">cal</text>
<line x1="1441.70" y1="519.10" x2="1513.90" y2="519.10" stroke="#ff0000" stroke-width="2.2"/>
<text x="1512.70" y="529.60" font-size="32">exp</text>
<line x1="1558.70" y1="519.10" x2="1583.30" y2="519.10" stroke="#ff0000" stroke-width="2.2"/>
<line x1="1604.70" y1="519.10" x2="1630.10" y2="519.10" stroke="#ff0000" stroke-width="2.2"/>
<circle cx="1594.00" cy="519.10" r="8.00" fill="#ff0000"/>
<text x="1629.00" y="529.60" font-size="32">cal</text>
<line x1="1441.70" y1="558.20" x2="1513.90" y2="558.20" stroke="#0000ff" stroke-width="2.2"/>
<text x="1512.70" y="568.70" font-size="32">exp</text>
<line x1="1558.70" y1="558.20" x2="1583.30" y2="558.20" stroke="#0000ff" stroke-width="2.2"/>
<line x1="1604.70" y1="558.20" x2="1630.10" y2="558.20" stroke="#0000ff" stroke-width="2.2"/>
<path d="M1594.00,547.87 L1603.50,563.37 L1584.50,563.37 Z" fill="#0000ff"/>
<text x="1629.00" y="568.70" font-size="32">cal</text>
<line x1="1441.70" y1="596.70" x2="1513.90" y2="596.70" stroke="#00ff00" stroke-width="2.2"/>
<text x="1512.70" y="607.20" font-size="32">exp</text>
<line x1="1558.70" y1="596.70" x2="1583.30" y2="596.70" stroke="#00ff00" stroke-width="2.2"/>
<line x1="1604.70" y1="596.70" x2="1630.10" y2="596.70" stroke="#00ff00" stroke-width="2.2"/>
<path d="M1584.50,591.53 L1603.50,591.53 L1594.00,607.03 Z" fill="#00ff00"/>
<text x="1629.00" y="607.20" font-size="32">cal</text>
<path d="M98.64,1313.82 C103.34,1283.49 108.04,1248.87 112.74,1222.85 C116.53,1201.86 120.32,1182.67 124.11,1168.26 C127.90,1153.86 131.70,1145.02 135.49,1136.42 C139.96,1126.27 144.44,1122.16 148.92,1114.42 C152.02,1109.06 155.13,1103.89 158.23,1097.76 C162.02,1090.28 165.81,1082.19 169.60,1072.74 C171.87,1067.08 174.15,1060.39 176.42,1054.55 C184.06,1034.91 191.70,1017.94 199.34,1003.08 C216.15,970.37 232.95,956.45 249.76,938.25 C266.57,920.05 283.37,906.30 300.18,893.87 C316.99,881.44 333.79,872.39 350.60,863.67 C367.41,854.95 384.21,849.05 401.02,841.55 C417.83,834.05 434.63,824.77 451.44,818.67 C468.25,812.57 485.05,808.49 501.86,804.95 C518.67,801.40 535.47,797.40 552.28,797.40 C569.09,797.40 585.89,800.19 602.70,801.82 C619.51,803.45 636.31,805.24 653.12,807.16 C669.93,809.08 686.73,811.44 703.54,813.34 C720.35,815.23 737.15,816.87 753.96,818.52 C768.75,819.98 783.54,821.32 798.33,822.72" fill="none" stroke="#555555" stroke-width="2.7" stroke-linejoin="round" stroke-linecap="round"/>
<path d="M98.64,1313.82 C103.34,1283.49 108.04,1248.87 112.74,1222.85 C116.53,1201.86 120.32,1182.67 124.11,1168.26 C127.90,1153.86 131.70,1145.02 135.49,1136.42 C139.96,1126.27 144.44,1122.16 148.92,1114.42 C152.02,1109.06 155.13,1103.89 158.23,1097.76 C162.02,1090.28 165.81,1082.19 169.60,1072.74 C171.87,1067.08 174.15,1060.39 176.42,1054.55 C184.06,1034.91 191.70,1017.94 199.34,1003.08 C216.15,970.37 232.95,956.45 249.76,938.25 C266.57,920.05 283.37,906.30 300.18,893.87 C316.99,881.44 333.79,872.39 350.60,863.67 C367.41,854.95 384.21,849.05 401.02,841.55 C417.83,834.05 434.63,824.77 451.44,818.67 C468.25,812.57 485.05,808.49 501.86,804.95 C518.67,801.40 535.47,797.40 552.28,797.40 C569.09,797.40 585.89,800.19 602.70,801.82 C619.51,803.45 636.31,805.24 653.12,807.16 C669.93,809.08 686.73,811.44 703.54,813.34 C720.35,815.23 737.15,816.87 753.96,818.52 C768.75,819.98 783.54,821.32 798.33,822.72" fill="none" stroke="#4d4d4d" stroke-width="1.0" stroke-linejoin="round" stroke-linecap="round"/>
<path d="M98.64,1300.17 C101.83,1282.73 105.01,1263.30 108.19,1247.86 C111.23,1233.16 114.26,1220.17 117.29,1209.20 C121.84,1192.75 126.39,1182.18 130.94,1172.81 C136.93,1160.46 142.93,1158.46 148.92,1150.11 C155.81,1140.51 162.71,1129.12 169.60,1118.23 C179.51,1102.56 189.43,1083.91 199.34,1069.58 C216.15,1045.28 232.95,1028.73 249.76,1012.91 C266.57,997.10 283.37,985.71 300.18,974.71 C316.99,963.70 333.79,954.57 350.60,946.87 C367.41,939.17 384.21,934.08 401.02,928.49 C417.83,922.90 434.63,917.28 451.44,913.32 C468.25,909.35 485.05,907.24 501.86,904.70 C518.67,902.16 535.47,899.98 552.28,898.06 C569.09,896.14 585.89,894.86 602.70,893.18 C619.51,891.50 636.31,889.23 653.12,888.00 C669.93,886.76 686.73,885.78 703.54,885.78 C720.35,885.78 737.15,886.78 753.96,886.78 C768.75,886.78 783.54,885.66 798.33,885.10" fill="none" stroke="#f44a4a" stroke-width="2.7" stroke-linejoin="round" stroke-linecap="round"/>
<path d="M98.64,1300.17 C101.83,1282.73 105.01,1263.30 108.19,1247.86 C111.23,1233.16 114.26,1220.17 117.29,1209.20 C121.84,1192.75 126.39,1182.18 130.94,1172.81 C136.93,1160.46 142.93,1158.46 148.92,1150.11 C155.81,1140.51 162.71,1129.12 169.60,1118.23 C179.51,1102.56 189.43,1083.91 199.34,1069.58 C216.15,1045.28 232.95,1028.73 249.76,1012.91 C266.57,997.10 283.37,985.71 300.18,974.71 C316.99,963.70 333.79,954.57 350.60,946.87 C367.41,939.17 384.21,934.08 401.02,928.49 C417.83,922.90 434.63,917.28 451.44,913.32 C468.25,909.35 485.05,907.24 501.86,904.70 C518.67,902.16 535.47,899.98 552.28,898.06 C569.09,896.14 585.89,894.86 602.70,893.18 C619.51,891.50 636.31,889.23 653.12,888.00 C669.93,886.76 686.73,885.78 703.54,885.78 C720.35,885.78 737.15,886.78 753.96,886.78 C768.75,886.78 783.54,885.66 798.33,885.10" fill="none" stroke="#ff1010" stroke-width="1.0" stroke-linejoin="round" stroke-linecap="round"/>
<path d="M98.64,1326.32 C101.83,1306.24 105.01,1282.50 108.19,1266.06 C111.98,1246.48 115.78,1233.73 119.57,1222.85 C124.87,1207.61 130.18,1204.02 135.49,1197.83 C139.96,1192.60 144.44,1190.68 148.92,1186.72 C165.73,1171.85 182.53,1147.66 199.34,1131.20 C216.15,1114.74 232.95,1100.77 249.76,1087.96 C266.57,1075.14 283.37,1064.67 300.18,1054.32 C316.99,1043.98 333.79,1033.02 350.60,1025.88 C367.41,1018.74 384.21,1015.29 401.02,1011.47 C417.83,1007.64 434.63,1005.57 451.44,1002.92 C468.25,1000.28 485.05,997.24 501.86,995.60 C518.67,993.96 535.47,993.09 552.28,993.09 C569.09,993.09 585.89,994.70 602.70,995.60 C619.51,996.51 636.31,997.90 653.12,998.50 C669.93,999.10 686.73,999.19 703.54,999.19 C720.35,999.19 737.15,998.27 753.96,998.27 C768.75,998.27 783.54,998.27 798.33,998.27" fill="none" stroke="#2f7ee6" stroke-width="2.7" stroke-linejoin="round" stroke-linecap="round"/>
<path d="M98.64,1326.32 C101.83,1306.24 105.01,1282.50 108.19,1266.06 C111.98,1246.48 115.78,1233.73 119.57,1222.85 C124.87,1207.61 130.18,1204.02 135.49,1197.83 C139.96,1192.60 144.44,1190.68 148.92,1186.72 C165.73,1171.85 182.53,1147.66 199.34,1131.20 C216.15,1114.74 232.95,1100.77 249.76,1087.96 C266.57,1075.14 283.37,1064.67 300.18,1054.32 C316.99,1043.98 333.79,1033.02 350.60,1025.88 C367.41,1018.74 384.21,1015.29 401.02,1011.47 C417.83,1007.64 434.63,1005.57 451.44,1002.92 C468.25,1000.28 485.05,997.24 501.86,995.60 C518.67,993.96 535.47,993.09 552.28,993.09 C569.09,993.09 585.89,994.70 602.70,995.60 C619.51,996.51 636.31,997.90 653.12,998.50 C669.93,999.10 686.73,999.19 703.54,999.19 C720.35,999.19 737.15,998.27 753.96,998.27 C768.75,998.27 783.54,998.27 798.33,998.27" fill="none" stroke="#0c2cf0" stroke-width="1.0" stroke-linejoin="round" stroke-linecap="round"/>
<path d="M98.64,1322.91 C101.83,1307.75 105.01,1290.12 108.19,1277.43 C111.23,1265.34 114.26,1255.82 117.29,1247.86 C123.36,1231.94 129.42,1229.27 135.49,1222.85 C139.96,1218.10 144.44,1215.16 148.92,1211.73 C155.81,1206.45 162.71,1202.64 169.60,1197.83 C179.51,1190.91 189.43,1182.76 199.34,1175.96 C216.15,1164.45 232.95,1155.19 249.76,1145.69 C266.57,1136.18 283.37,1127.28 300.18,1118.92 C316.99,1110.56 333.79,1102.33 350.60,1095.51 C367.41,1088.68 384.21,1082.92 401.02,1077.97 C417.83,1073.01 434.63,1069.30 451.44,1065.76 C468.25,1062.23 485.05,1059.19 501.86,1056.77 C518.67,1054.34 535.47,1052.86 552.28,1051.20 C569.09,1049.53 585.89,1048.26 602.70,1046.77 C619.51,1045.29 636.31,1043.79 653.12,1042.28 C669.93,1040.76 686.73,1039.28 703.54,1037.70 C720.35,1036.12 737.15,1032.82 753.96,1032.82 C768.75,1032.82 783.54,1032.82 798.33,1032.82" fill="none" stroke="#45b475" stroke-width="2.7" stroke-linejoin="round" stroke-linecap="round"/>
<path d="M98.64,1322.91 C101.83,1307.75 105.01,1290.12 108.19,1277.43 C111.23,1265.34 114.26,1255.82 117.29,1247.86 C123.36,1231.94 129.42,1229.27 135.49,1222.85 C139.96,1218.10 144.44,1215.16 148.92,1211.73 C155.81,1206.45 162.71,1202.64 169.60,1197.83 C179.51,1190.91 189.43,1182.76 199.34,1175.96 C216.15,1164.45 232.95,1155.19 249.76,1145.69 C266.57,1136.18 283.37,1127.28 300.18,1118.92 C316.99,1110.56 333.79,1102.33 350.60,1095.51 C367.41,1088.68 384.21,1082.92 401.02,1077.97 C417.83,1073.01 434.63,1069.30 451.44,1065.76 C468.25,1062.23 485.05,1059.19 501.86,1056.77 C518.67,1054.34 535.47,1052.86 552.28,1051.20 C569.09,1049.53 585.89,1048.26 602.70,1046.77 C619.51,1045.29 636.31,1043.79 653.12,1042.28 C669.93,1040.76 686.73,1039.28 703.54,1037.70 C720.35,1036.12 737.15,1032.82 753.96,1032.82 C768.75,1032.82 783.54,1032.82 798.33,1032.82" fill="none" stroke="#14d03a" stroke-width="1.0" stroke-linejoin="round" stroke-linecap="round"/>
<rect x="142.67" y="1108.17" width="12.50" height="12.50" fill="#4a4a4a"/>
<rect x="193.09" y="996.83" width="12.50" height="12.50" fill="#4a4a4a"/>
<rect x="243.51" y="932.00" width="12.50" height="12.50" fill="#4a4a4a"/>
<rect x="293.93" y="887.62" width="12.50" height="12.50" fill="#4a4a4a"/>
<rect x="344.35" y="857.42" width="12.50" height="12.50" fill="#4a4a4a"/>
<rect x="394.77" y="835.30" width="12.50" height="12.50" fill="#4a4a4a"/>
<rect x="445.19" y="812.42" width="12.50" height="12.50" fill="#4a4a4a"/>
<rect x="495.61" y="798.70" width="12.50" height="12.50" fill="#4a4a4a"/>
<rect x="546.03" y="791.15" width="12.50" height="12.50" fill="#4a4a4a"/>
<rect x="596.45" y="795.57" width="12.50" height="12.50" fill="#4a4a4a"/>
<rect x="646.87" y="800.91" width="12.50" height="12.50" fill="#4a4a4a"/>
<rect x="697.29" y="807.09" width="12.50" height="12.50" fill="#4a4a4a"/>
<rect x="747.71" y="812.27" width="12.50" height="12.50" fill="#4a4a4a"/>
<circle cx="148.92" cy="1150.11" r="7.20" fill="#ff0000"/>
<circle cx="199.34" cy="1069.58" r="7.20" fill="#ff0000"/>
<circle cx="249.76" cy="1012.91" r="7.20" fill="#ff0000"/>
<circle cx="300.18" cy="974.71" r="7.20" fill="#ff0000"/>
<circle cx="350.60" cy="946.87" r="7.20" fill="#ff0000"/>
<circle cx="401.02" cy="928.49" r="7.20" fill="#ff0000"/>
<circle cx="451.44" cy="913.32" r="7.20" fill="#ff0000"/>
<circle cx="501.86" cy="904.70" r="7.20" fill="#ff0000"/>
<circle cx="552.28" cy="898.06" r="7.20" fill="#ff0000"/>
<circle cx="602.70" cy="893.18" r="7.20" fill="#ff0000"/>
<circle cx="653.12" cy="888.00" r="7.20" fill="#ff0000"/>
<circle cx="703.54" cy="885.78" r="7.20" fill="#ff0000"/>
<circle cx="753.96" cy="886.78" r="7.20" fill="#ff0000"/>
<path d="M148.92,1176.45 L157.52,1191.85 L140.32,1191.85 Z" fill="#0000ff"/>
<path d="M199.34,1120.93 L207.94,1136.33 L190.74,1136.33 Z" fill="#0000ff"/>
<path d="M249.76,1077.69 L258.36,1093.09 L241.16,1093.09 Z" fill="#0000ff"/>
<path d="M300.18,1044.06 L308.78,1059.46 L291.58,1059.46 Z" fill="#0000ff"/>
<path d="M350.60,1015.61 L359.20,1031.01 L342.00,1031.01 Z" fill="#0000ff"/>
<path d="M401.02,1001.20 L409.62,1016.60 L392.42,1016.60 Z" fill="#0000ff"/>
<path d="M451.44,992.66 L460.04,1008.06 L442.84,1008.06 Z" fill="#0000ff"/>
<path d="M501.86,985.34 L510.46,1000.74 L493.26,1000.74 Z" fill="#0000ff"/>
<path d="M552.28,982.82 L560.88,998.22 L543.68,998.22 Z" fill="#0000ff"/>
<path d="M602.70,985.34 L611.30,1000.74 L594.10,1000.74 Z" fill="#0000ff"/>
<path d="M653.12,988.23 L661.72,1003.63 L644.52,1003.63 Z" fill="#0000ff"/>
<path d="M703.54,988.92 L712.14,1004.32 L694.94,1004.32 Z" fill="#0000ff"/>
<path d="M753.96,988.01 L762.56,1003.41 L745.36,1003.41 Z" fill="#0000ff"/>
<path d="M140.32,1206.60 L157.52,1206.60 L148.92,1222.00 Z" fill="#00ff00"/>
<path d="M190.74,1170.83 L207.94,1170.83 L199.34,1186.23 Z" fill="#00ff00"/>
<path d="M241.16,1140.55 L258.36,1140.55 L249.76,1155.95 Z" fill="#00ff00"/>
<path d="M291.58,1113.79 L308.78,1113.79 L300.18,1129.19 Z" fill="#00ff00"/>
<path d="M342.00,1090.37 L359.20,1090.37 L350.60,1105.77 Z" fill="#00ff00"/>
<path d="M392.42,1072.83 L409.62,1072.83 L401.02,1088.23 Z" fill="#00ff00"/>
<path d="M442.84,1060.63 L460.04,1060.63 L451.44,1076.03 Z" fill="#00ff00"/>
<path d="M493.26,1051.63 L510.46,1051.63 L501.86,1067.03 Z" fill="#00ff00"/>
<path d="M543.68,1046.06 L560.88,1046.06 L552.28,1061.46 Z" fill="#00ff00"/>
<path d="M594.10,1041.64 L611.30,1041.64 L602.70,1057.04 Z" fill="#00ff00"/>
<path d="M644.52,1037.14 L661.72,1037.14 L653.12,1052.54 Z" fill="#00ff00"/>
<path d="M694.94,1032.57 L712.14,1032.57 L703.54,1047.97 Z" fill="#00ff00"/>
<path d="M745.36,1027.69 L762.56,1027.69 L753.96,1043.09 Z" fill="#00ff00"/>
<rect x="98.5" y="750.8" width="756.30" height="610.10" fill="none" stroke="#000" stroke-width="2.6"/>
<line x1="98.50" y1="1360.90" x2="98.50" y2="1371.90" stroke="#000" stroke-width="2.6" stroke-linecap="round"/>
<text transform="translate(98.50,1406.10) scale(1,1.06)" text-anchor="middle" font-size="32.3">0.0</text>
<line x1="148.92" y1="1360.90" x2="148.92" y2="1365.50" stroke="#000" stroke-width="2.6" stroke-linecap="round"/>
<line x1="199.34" y1="1360.90" x2="199.34" y2="1371.90" stroke="#000" stroke-width="2.6" stroke-linecap="round"/>
<text transform="translate(199.34,1406.10) scale(1,1.06)" text-anchor="middle" font-size="32.3">0.1</text>
<line x1="249.76" y1="1360.90" x2="249.76" y2="1365.50" stroke="#000" stroke-width="2.6" stroke-linecap="round"/>
<line x1="300.18" y1="1360.90" x2="300.18" y2="1371.90" stroke="#000" stroke-width="2.6" stroke-linecap="round"/>
<text transform="translate(300.18,1406.10) scale(1,1.06)" text-anchor="middle" font-size="32.3">0.2</text>
<line x1="350.60" y1="1360.90" x2="350.60" y2="1365.50" stroke="#000" stroke-width="2.6" stroke-linecap="round"/>
<line x1="401.02" y1="1360.90" x2="401.02" y2="1371.90" stroke="#000" stroke-width="2.6" stroke-linecap="round"/>
<text transform="translate(401.02,1406.10) scale(1,1.06)" text-anchor="middle" font-size="32.3">0.3</text>
<line x1="451.44" y1="1360.90" x2="451.44" y2="1365.50" stroke="#000" stroke-width="2.6" stroke-linecap="round"/>
<line x1="501.86" y1="1360.90" x2="501.86" y2="1371.90" stroke="#000" stroke-width="2.6" stroke-linecap="round"/>
<text transform="translate(501.86,1406.10) scale(1,1.06)" text-anchor="middle" font-size="32.3">0.4</text>
<line x1="552.28" y1="1360.90" x2="552.28" y2="1365.50" stroke="#000" stroke-width="2.6" stroke-linecap="round"/>
<line x1="602.70" y1="1360.90" x2="602.70" y2="1371.90" stroke="#000" stroke-width="2.6" stroke-linecap="round"/>
<text transform="translate(602.70,1406.10) scale(1,1.06)" text-anchor="middle" font-size="32.3">0.5</text>
<line x1="653.12" y1="1360.90" x2="653.12" y2="1365.50" stroke="#000" stroke-width="2.6" stroke-linecap="round"/>
<line x1="703.54" y1="1360.90" x2="703.54" y2="1371.90" stroke="#000" stroke-width="2.6" stroke-linecap="round"/>
<text transform="translate(703.54,1406.10) scale(1,1.06)" text-anchor="middle" font-size="32.3">0.6</text>
<line x1="753.96" y1="1360.90" x2="753.96" y2="1365.50" stroke="#000" stroke-width="2.6" stroke-linecap="round"/>
<line x1="804.38" y1="1360.90" x2="804.38" y2="1371.90" stroke="#000" stroke-width="2.6" stroke-linecap="round"/>
<text transform="translate(804.38,1406.10) scale(1,1.06)" text-anchor="middle" font-size="32.3">0.7</text>
<line x1="854.80" y1="1360.90" x2="854.80" y2="1365.50" stroke="#000" stroke-width="2.6" stroke-linecap="round"/>
<line x1="87.50" y1="1360.90" x2="98.50" y2="1360.90" stroke="#000" stroke-width="2.6" stroke-linecap="round"/>
<text transform="translate(78.20,1371.90) scale(1,1.06)" text-anchor="end" font-size="32.3">0</text>
<line x1="93.90" y1="1322.77" x2="98.50" y2="1322.77" stroke="#000" stroke-width="2.6" stroke-linecap="round"/>
<line x1="87.50" y1="1284.64" x2="98.50" y2="1284.64" stroke="#000" stroke-width="2.6" stroke-linecap="round"/>
<text transform="translate(78.20,1295.64) scale(1,1.06)" text-anchor="end" font-size="32.3">10</text>
<line x1="93.90" y1="1246.51" x2="98.50" y2="1246.51" stroke="#000" stroke-width="2.6" stroke-linecap="round"/>
<line x1="87.50" y1="1208.38" x2="98.50" y2="1208.38" stroke="#000" stroke-width="2.6" stroke-linecap="round"/>
<text transform="translate(78.20,1219.38) scale(1,1.06)" text-anchor="end" font-size="32.3">20</text>
<line x1="93.90" y1="1170.24" x2="98.50" y2="1170.24" stroke="#000" stroke-width="2.6" stroke-linecap="round"/>
<line x1="87.50" y1="1132.11" x2="98.50" y2="1132.11" stroke="#000" stroke-width="2.6" stroke-linecap="round"/>
<text transform="translate(78.20,1143.11) scale(1,1.06)" text-anchor="end" font-size="32.3">30</text>
<line x1="93.90" y1="1093.98" x2="98.50" y2="1093.98" stroke="#000" stroke-width="2.6" stroke-linecap="round"/>
<line x1="87.50" y1="1055.85" x2="98.50" y2="1055.85" stroke="#000" stroke-width="2.6" stroke-linecap="round"/>
<text transform="translate(78.20,1066.85) scale(1,1.06)" text-anchor="end" font-size="32.3">40</text>
<line x1="93.90" y1="1017.72" x2="98.50" y2="1017.72" stroke="#000" stroke-width="2.6" stroke-linecap="round"/>
<line x1="87.50" y1="979.59" x2="98.50" y2="979.59" stroke="#000" stroke-width="2.6" stroke-linecap="round"/>
<text transform="translate(78.20,990.59) scale(1,1.06)" text-anchor="end" font-size="32.3">50</text>
<line x1="93.90" y1="941.46" x2="98.50" y2="941.46" stroke="#000" stroke-width="2.6" stroke-linecap="round"/>
<line x1="87.50" y1="903.33" x2="98.50" y2="903.33" stroke="#000" stroke-width="2.6" stroke-linecap="round"/>
<text transform="translate(78.20,914.33) scale(1,1.06)" text-anchor="end" font-size="32.3">60</text>
<line x1="93.90" y1="865.19" x2="98.50" y2="865.19" stroke="#000" stroke-width="2.6" stroke-linecap="round"/>
<line x1="87.50" y1="827.06" x2="98.50" y2="827.06" stroke="#000" stroke-width="2.6" stroke-linecap="round"/>
<text transform="translate(78.20,838.06) scale(1,1.06)" text-anchor="end" font-size="32.3">70</text>
<line x1="93.90" y1="788.93" x2="98.50" y2="788.93" stroke="#000" stroke-width="2.6" stroke-linecap="round"/>
<line x1="87.50" y1="750.80" x2="98.50" y2="750.80" stroke="#000" stroke-width="2.6" stroke-linecap="round"/>
<text transform="translate(78.20,761.80) scale(1,1.06)" text-anchor="end" font-size="32.3">80</text>
<text x="476.65" y="1458.30" text-anchor="middle" font-size="32">True strain</text>
<text transform="translate(32.60,1055.85) rotate(-90)" x="0" y="0" text-anchor="middle" font-size="32">True stress (MPa)</text>
<text transform="translate(-0.50,794.40) scale(0.9,1)" x="0" y="0" font-size="48">(c)</text>
<line x1="112.00" y1="783.90" x2="183.70" y2="783.90" stroke="#555555" stroke-width="2.6"/>
<text transform="translate(190.10,794.70) scale(1,1.06)" font-size="32.3">380<tspan font-family="'Liberation Serif','Noto Sans CJK SC',sans-serif" font-weight="300" font-size="30">℃</tspan></text>
<line x1="112.00" y1="822.90" x2="183.70" y2="822.90" stroke="#f44a4a" stroke-width="2.6"/>
<text transform="translate(190.10,833.70) scale(1,1.06)" font-size="32.3">410<tspan font-family="'Liberation Serif','Noto Sans CJK SC',sans-serif" font-weight="300" font-size="30">℃</tspan></text>
<line x1="112.00" y1="862.10" x2="183.70" y2="862.10" stroke="#2f7ee6" stroke-width="2.6"/>
<text transform="translate(190.10,872.90) scale(1,1.06)" font-size="32.3">440<tspan font-family="'Liberation Serif','Noto Sans CJK SC',sans-serif" font-weight="300" font-size="30">℃</tspan></text>
<line x1="112.00" y1="901.20" x2="183.70" y2="901.20" stroke="#45b475" stroke-width="2.6"/>
<text transform="translate(190.10,912.00) scale(1,1.06)" font-size="32.3">470<tspan font-family="'Liberation Serif','Noto Sans CJK SC',sans-serif" font-weight="300" font-size="30">℃</tspan></text>
<line x1="582.80" y1="1218.10" x2="655.00" y2="1218.10" stroke="#000000" stroke-width="2.2"/>
<text x="653.80" y="1228.60" font-size="32">exp</text>
<line x1="699.80" y1="1218.10" x2="724.40" y2="1218.10" stroke="#000000" stroke-width="2.2"/>
<line x1="745.80" y1="1218.10" x2="771.20" y2="1218.10" stroke="#000000" stroke-width="2.2"/>
<rect x="728.20" y="1211.20" width="13.80" height="13.80" fill="#000000"/>
<text x="770.10" y="1228.60" font-size="32">cal</text>
<line x1="582.80" y1="1257.50" x2="655.00" y2="1257.50" stroke="#ff0000" stroke-width="2.2"/>
<text x="653.80" y="1268.00" font-size="32">exp</text>
<line x1="699.80" y1="1257.50" x2="724.40" y2="1257.50" stroke="#ff0000" stroke-width="2.2"/>
<line x1="745.80" y1="1257.50" x2="771.20" y2="1257.50" stroke="#ff0000" stroke-width="2.2"/>
<circle cx="735.10" cy="1257.50" r="8.00" fill="#ff0000"/>
<text x="770.10" y="1268.00" font-size="32">cal</text>
<line x1="582.80" y1="1296.90" x2="655.00" y2="1296.90" stroke="#0000ff" stroke-width="2.2"/>
<text x="653.80" y="1307.40" font-size="32">exp</text>
<line x1="699.80" y1="1296.90" x2="724.40" y2="1296.90" stroke="#0000ff" stroke-width="2.2"/>
<line x1="745.80" y1="1296.90" x2="771.20" y2="1296.90" stroke="#0000ff" stroke-width="2.2"/>
<path d="M735.10,1286.57 L744.60,1302.07 L725.60,1302.07 Z" fill="#0000ff"/>
<text x="770.10" y="1307.40" font-size="32">cal</text>
<line x1="582.80" y1="1335.50" x2="655.00" y2="1335.50" stroke="#00ff00" stroke-width="2.2"/>
<text x="653.80" y="1346.00" font-size="32">exp</text>
<line x1="699.80" y1="1335.50" x2="724.40" y2="1335.50" stroke="#00ff00" stroke-width="2.2"/>
<line x1="745.80" y1="1335.50" x2="771.20" y2="1335.50" stroke="#00ff00" stroke-width="2.2"/>
<path d="M725.60,1330.33 L744.60,1330.33 L735.10,1345.83 Z" fill="#00ff00"/>
<text x="770.10" y="1346.00" font-size="32">cal</text>
<path d="M968.64,1266.06 C973.34,1254.69 978.04,1243.26 982.74,1231.94 C986.53,1222.81 990.32,1213.75 994.11,1204.65 C997.90,1195.55 1001.70,1187.08 1005.49,1177.36 C1009.51,1167.05 1013.53,1154.32 1017.55,1144.33 C1022.63,1131.73 1027.70,1121.14 1032.78,1111.41 C1038.84,1099.77 1044.91,1092.44 1050.97,1081.84 C1056.35,1072.44 1061.73,1060.97 1067.11,1051.90 C1083.62,1024.02 1100.14,1010.16 1116.66,993.86 C1133.18,977.55 1149.70,965.55 1166.21,954.07 C1182.73,942.58 1199.25,933.41 1215.77,924.96 C1232.28,916.50 1248.80,910.06 1265.32,903.35 C1281.84,896.64 1298.36,889.83 1314.87,884.68 C1331.39,879.53 1347.91,875.98 1364.43,872.44 C1380.94,868.90 1397.46,865.67 1413.98,863.44 C1430.50,861.20 1447.02,860.38 1463.53,859.05 C1480.05,857.72 1496.57,856.45 1513.09,855.45 C1529.60,854.45 1546.12,853.05 1562.64,853.05 C1579.16,853.05 1595.68,853.05 1612.19,853.83 C1625.41,854.46 1638.62,855.83 1651.84,856.83" fill="none" stroke="#555555" stroke-width="2.7" stroke-linejoin="round" stroke-linecap="round"/>
<path d="M968.64,1266.06 C973.34,1254.69 978.04,1243.26 982.74,1231.94 C986.53,1222.81 990.32,1213.75 994.11,1204.65 C997.90,1195.55 1001.70,1187.08 1005.49,1177.36 C1009.51,1167.05 1013.53,1154.32 1017.55,1144.33 C1022.63,1131.73 1027.70,1121.14 1032.78,1111.41 C1038.84,1099.77 1044.91,1092.44 1050.97,1081.84 C1056.35,1072.44 1061.73,1060.97 1067.11,1051.90 C1083.62,1024.02 1100.14,1010.16 1116.66,993.86 C1133.18,977.55 1149.70,965.55 1166.21,954.07 C1182.73,942.58 1199.25,933.41 1215.77,924.96 C1232.28,916.50 1248.80,910.06 1265.32,903.35 C1281.84,896.64 1298.36,889.83 1314.87,884.68 C1331.39,879.53 1347.91,875.98 1364.43,872.44 C1380.94,868.90 1397.46,865.67 1413.98,863.44 C1430.50,861.20 1447.02,860.38 1463.53,859.05 C1480.05,857.72 1496.57,856.45 1513.09,855.45 C1529.60,854.45 1546.12,853.05 1562.64,853.05 C1579.16,853.05 1595.68,853.05 1612.19,853.83 C1625.41,854.46 1638.62,855.83 1651.84,856.83" fill="none" stroke="#4d4d4d" stroke-width="1.0" stroke-linejoin="round" stroke-linecap="round"/>
<path d="M968.64,1311.54 C970.31,1300.17 971.98,1286.69 973.65,1277.43 C976.68,1260.59 979.71,1257.11 982.74,1247.86 C986.53,1236.30 990.32,1226.64 994.11,1216.02 C997.90,1205.41 1001.70,1194.07 1005.49,1184.18 C1009.51,1173.69 1013.53,1163.90 1017.55,1155.13 C1023.39,1142.42 1029.22,1132.71 1035.05,1122.78 C1040.36,1113.74 1045.66,1107.66 1050.97,1097.76 C1056.35,1087.72 1061.73,1073.22 1067.11,1062.82 C1083.62,1030.90 1100.14,1018.73 1116.66,1002.50 C1133.18,986.28 1149.70,975.62 1166.21,965.47 C1182.73,955.32 1199.25,948.11 1215.77,941.58 C1232.28,935.05 1248.80,930.09 1265.32,926.28 C1281.84,922.47 1298.36,920.51 1314.87,918.71 C1331.39,916.91 1347.91,915.47 1364.43,915.47 C1380.94,915.47 1397.46,915.94 1413.98,916.67 C1430.50,917.40 1447.02,918.51 1463.53,919.85 C1480.05,921.19 1496.57,923.22 1513.09,924.72 C1529.60,926.22 1546.12,928.26 1562.64,928.86 C1579.16,929.46 1595.68,928.86 1612.19,929.46 C1628.71,930.06 1645.23,935.06 1661.75,937.86" fill="none" stroke="#f44a4a" stroke-width="2.7" stroke-linejoin="round" stroke-linecap="round"/>
<path d="M968.64,1311.54 C970.31,1300.17 971.98,1286.69 973.65,1277.43 C976.68,1260.59 979.71,1257.11 982.74,1247.86 C986.53,1236.30 990.32,1226.64 994.11,1216.02 C997.90,1205.41 1001.70,1194.07 1005.49,1184.18 C1009.51,1173.69 1013.53,1163.90 1017.55,1155.13 C1023.39,1142.42 1029.22,1132.71 1035.05,1122.78 C1040.36,1113.74 1045.66,1107.66 1050.97,1097.76 C1056.35,1087.72 1061.73,1073.22 1067.11,1062.82 C1083.62,1030.90 1100.14,1018.73 1116.66,1002.50 C1133.18,986.28 1149.70,975.62 1166.21,965.47 C1182.73,955.32 1199.25,948.11 1215.77,941.58 C1232.28,935.05 1248.80,930.09 1265.32,926.28 C1281.84,922.47 1298.36,920.51 1314.87,918.71 C1331.39,916.91 1347.91,915.47 1364.43,915.47 C1380.94,915.47 1397.46,915.94 1413.98,916.67 C1430.50,917.40 1447.02,918.51 1463.53,919.85 C1480.05,921.19 1496.57,923.22 1513.09,924.72 C1529.60,926.22 1546.12,928.26 1562.64,928.86 C1579.16,929.46 1595.68,928.86 1612.19,929.46 C1628.71,930.06 1645.23,935.06 1661.75,937.86" fill="none" stroke="#ff1010" stroke-width="1.0" stroke-linejoin="round" stroke-linecap="round"/>
<path d="M968.64,1355.89 L968.64,1318.36 L973.65,1266.06 C976.68,1243.31 979.71,1251.03 982.74,1243.31 C986.53,1233.67 990.32,1223.98 994.11,1213.75 C997.90,1203.51 1001.70,1190.60 1005.49,1181.91 C1009.51,1172.68 1013.53,1167.60 1017.55,1160.71 C1023.39,1150.73 1029.22,1141.24 1035.05,1131.87 C1041.87,1120.92 1048.70,1110.41 1055.52,1100.03 C1059.38,1094.16 1063.24,1087.67 1067.11,1082.63 C1071.58,1076.79 1076.06,1073.15 1080.54,1068.19 C1085.84,1062.33 1091.15,1055.46 1096.46,1050.00 C1103.19,1043.06 1109.93,1037.34 1116.66,1032.09 C1133.18,1019.21 1149.70,1013.16 1166.21,1006.40 C1182.73,999.65 1199.25,995.83 1215.77,991.58 C1232.28,987.33 1248.80,983.83 1265.32,980.89 C1281.84,977.96 1298.36,975.66 1314.87,973.99 C1331.39,972.32 1347.91,971.67 1364.43,970.87 C1380.94,970.07 1397.46,969.84 1413.98,969.19 C1430.50,968.54 1447.02,967.15 1463.53,966.97 C1480.05,966.79 1496.57,966.97 1513.09,966.79 C1529.60,966.61 1546.12,964.44 1562.64,963.19 C1579.16,961.94 1595.68,959.29 1612.19,959.29 C1628.71,959.29 1645.23,959.93 1661.75,960.25" fill="none" stroke="#2f7ee6" stroke-width="2.7" stroke-linejoin="round" stroke-linecap="round"/>
<path d="M968.64,1355.89 L968.64,1318.36 L973.65,1266.06 C976.68,1243.31 979.71,1251.03 982.74,1243.31 C986.53,1233.67 990.32,1223.98 994.11,1213.75 C997.90,1203.51 1001.70,1190.60 1005.49,1181.91 C1009.51,1172.68 1013.53,1167.60 1017.55,1160.71 C1023.39,1150.73 1029.22,1141.24 1035.05,1131.87 C1041.87,1120.92 1048.70,1110.41 1055.52,1100.03 C1059.38,1094.16 1063.24,1087.67 1067.11,1082.63 C1071.58,1076.79 1076.06,1073.15 1080.54,1068.19 C1085.84,1062.33 1091.15,1055.46 1096.46,1050.00 C1103.19,1043.06 1109.93,1037.34 1116.66,1032.09 C1133.18,1019.21 1149.70,1013.16 1166.21,1006.40 C1182.73,999.65 1199.25,995.83 1215.77,991.58 C1232.28,987.33 1248.80,983.83 1265.32,980.89 C1281.84,977.96 1298.36,975.66 1314.87,973.99 C1331.39,972.32 1347.91,971.67 1364.43,970.87 C1380.94,970.07 1397.46,969.84 1413.98,969.19 C1430.50,968.54 1447.02,967.15 1463.53,966.97 C1480.05,966.79 1496.57,966.97 1513.09,966.79 C1529.60,966.61 1546.12,964.44 1562.64,963.19 C1579.16,961.94 1595.68,959.29 1612.19,959.29 C1628.71,959.29 1645.23,959.93 1661.75,960.25" fill="none" stroke="#0c2cf0" stroke-width="1.0" stroke-linejoin="round" stroke-linecap="round"/>
<path d="M968.64,1316.09 C970.31,1300.17 971.98,1278.34 973.65,1268.33 C976.68,1250.14 979.71,1256.20 982.74,1250.14 C986.53,1242.56 990.32,1233.46 994.11,1227.39 C997.90,1221.33 1001.70,1217.80 1005.49,1213.75 C1009.51,1209.45 1013.53,1205.85 1017.55,1202.55 C1024.90,1196.51 1032.25,1194.00 1039.60,1188.73 C1048.77,1182.16 1057.94,1172.90 1067.11,1165.94 C1083.62,1153.40 1100.14,1144.69 1116.66,1134.55 C1133.18,1124.40 1149.70,1114.38 1166.21,1105.08 C1182.73,1095.77 1199.25,1086.62 1215.77,1078.73 C1232.28,1070.83 1248.80,1064.02 1265.32,1057.72 C1281.84,1051.42 1298.36,1045.47 1314.87,1040.91 C1331.39,1036.36 1347.91,1033.30 1364.43,1030.41 C1380.94,1027.52 1397.46,1025.51 1413.98,1023.57 C1430.50,1021.63 1447.02,1020.25 1463.53,1018.77 C1480.05,1017.29 1496.57,1015.65 1513.09,1014.69 C1529.60,1013.73 1546.12,1013.49 1562.64,1013.01 C1579.16,1012.53 1595.68,1011.81 1612.19,1011.81 C1626.73,1011.81 1641.26,1011.81 1655.80,1011.81" fill="none" stroke="#45b475" stroke-width="2.7" stroke-linejoin="round" stroke-linecap="round"/>
<path d="M968.64,1316.09 C970.31,1300.17 971.98,1278.34 973.65,1268.33 C976.68,1250.14 979.71,1256.20 982.74,1250.14 C986.53,1242.56 990.32,1233.46 994.11,1227.39 C997.90,1221.33 1001.70,1217.80 1005.49,1213.75 C1009.51,1209.45 1013.53,1205.85 1017.55,1202.55 C1024.90,1196.51 1032.25,1194.00 1039.60,1188.73 C1048.77,1182.16 1057.94,1172.90 1067.11,1165.94 C1083.62,1153.40 1100.14,1144.69 1116.66,1134.55 C1133.18,1124.40 1149.70,1114.38 1166.21,1105.08 C1182.73,1095.77 1199.25,1086.62 1215.77,1078.73 C1232.28,1070.83 1248.80,1064.02 1265.32,1057.72 C1281.84,1051.42 1298.36,1045.47 1314.87,1040.91 C1331.39,1036.36 1347.91,1033.30 1364.43,1030.41 C1380.94,1027.52 1397.46,1025.51 1413.98,1023.57 C1430.50,1021.63 1447.02,1020.25 1463.53,1018.77 C1480.05,1017.29 1496.57,1015.65 1513.09,1014.69 C1529.60,1013.73 1546.12,1013.49 1562.64,1013.01 C1579.16,1012.53 1595.68,1011.81 1612.19,1011.81 C1626.73,1011.81 1641.26,1011.81 1655.80,1011.81" fill="none" stroke="#14d03a" stroke-width="1.0" stroke-linejoin="round" stroke-linecap="round"/>
<rect x="1011.30" y="1138.08" width="12.50" height="12.50" fill="#4a4a4a"/>
<rect x="1060.86" y="1045.65" width="12.50" height="12.50" fill="#4a4a4a"/>
<rect x="1110.41" y="987.61" width="12.50" height="12.50" fill="#4a4a4a"/>
<rect x="1159.96" y="947.82" width="12.50" height="12.50" fill="#4a4a4a"/>
<rect x="1209.52" y="918.71" width="12.50" height="12.50" fill="#4a4a4a"/>
<rect x="1259.07" y="897.10" width="12.50" height="12.50" fill="#4a4a4a"/>
<rect x="1308.62" y="878.43" width="12.50" height="12.50" fill="#4a4a4a"/>
<rect x="1358.18" y="866.19" width="12.50" height="12.50" fill="#4a4a4a"/>
<rect x="1407.73" y="857.19" width="12.50" height="12.50" fill="#4a4a4a"/>
<rect x="1457.28" y="852.80" width="12.50" height="12.50" fill="#4a4a4a"/>
<rect x="1506.84" y="849.20" width="12.50" height="12.50" fill="#4a4a4a"/>
<rect x="1556.39" y="846.80" width="12.50" height="12.50" fill="#4a4a4a"/>
<rect x="1605.94" y="847.58" width="12.50" height="12.50" fill="#4a4a4a"/>
<circle cx="1017.55" cy="1155.13" r="7.20" fill="#ff0000"/>
<circle cx="1067.11" cy="1062.82" r="7.20" fill="#ff0000"/>
<circle cx="1116.66" cy="1002.50" r="7.20" fill="#ff0000"/>
<circle cx="1166.21" cy="965.47" r="7.20" fill="#ff0000"/>
<circle cx="1215.77" cy="941.58" r="7.20" fill="#ff0000"/>
<circle cx="1265.32" cy="926.28" r="7.20" fill="#ff0000"/>
<circle cx="1314.87" cy="918.71" r="7.20" fill="#ff0000"/>
<circle cx="1364.43" cy="915.47" r="7.20" fill="#ff0000"/>
<circle cx="1413.98" cy="916.67" r="7.20" fill="#ff0000"/>
<circle cx="1463.53" cy="919.85" r="7.20" fill="#ff0000"/>
<circle cx="1513.09" cy="924.72" r="7.20" fill="#ff0000"/>
<circle cx="1562.64" cy="928.86" r="7.20" fill="#ff0000"/>
<circle cx="1612.19" cy="929.46" r="7.20" fill="#ff0000"/>
<path d="M1017.55,1150.45 L1026.15,1165.85 L1008.95,1165.85 Z" fill="#0000ff"/>
<path d="M1067.11,1072.36 L1075.71,1087.76 L1058.51,1087.76 Z" fill="#0000ff"/>
<path d="M1116.66,1021.83 L1125.26,1037.23 L1108.06,1037.23 Z" fill="#0000ff"/>
<path d="M1166.21,996.14 L1174.81,1011.54 L1157.61,1011.54 Z" fill="#0000ff"/>
<path d="M1215.77,981.31 L1224.37,996.71 L1207.17,996.71 Z" fill="#0000ff"/>
<path d="M1265.32,970.63 L1273.92,986.03 L1256.72,986.03 Z" fill="#0000ff"/>
<path d="M1314.87,963.73 L1323.47,979.13 L1306.27,979.13 Z" fill="#0000ff"/>
<path d="M1364.43,960.60 L1373.03,976.00 L1355.83,976.00 Z" fill="#0000ff"/>
<path d="M1413.98,958.92 L1422.58,974.32 L1405.38,974.32 Z" fill="#0000ff"/>
<path d="M1463.53,956.70 L1472.13,972.10 L1454.93,972.10 Z" fill="#0000ff"/>
<path d="M1513.09,956.52 L1521.69,971.92 L1504.49,971.92 Z" fill="#0000ff"/>
<path d="M1562.64,952.92 L1571.24,968.32 L1554.04,968.32 Z" fill="#0000ff"/>
<path d="M1612.19,949.02 L1620.79,964.42 L1603.59,964.42 Z" fill="#0000ff"/>
<path d="M1008.95,1197.42 L1026.15,1197.42 L1017.55,1212.82 Z" fill="#00ff00"/>
<path d="M1058.51,1160.80 L1075.71,1160.80 L1067.11,1176.20 Z" fill="#00ff00"/>
<path d="M1108.06,1129.41 L1125.26,1129.41 L1116.66,1144.81 Z" fill="#00ff00"/>
<path d="M1157.61,1099.94 L1174.81,1099.94 L1166.21,1115.34 Z" fill="#00ff00"/>
<path d="M1207.17,1073.59 L1224.37,1073.59 L1215.77,1088.99 Z" fill="#00ff00"/>
<path d="M1256.72,1052.59 L1273.92,1052.59 L1265.32,1067.99 Z" fill="#00ff00"/>
<path d="M1306.27,1035.78 L1323.47,1035.78 L1314.87,1051.18 Z" fill="#00ff00"/>
<path d="M1355.83,1025.28 L1373.03,1025.28 L1364.43,1040.68 Z" fill="#00ff00"/>
<path d="M1405.38,1018.44 L1422.58,1018.44 L1413.98,1033.84 Z" fill="#00ff00"/>
<path d="M1454.93,1013.63 L1472.13,1013.63 L1463.53,1029.03 Z" fill="#00ff00"/>
<path d="M1504.49,1009.55 L1521.69,1009.55 L1513.09,1024.95 Z" fill="#00ff00"/>
<path d="M1554.04,1007.87 L1571.24,1007.87 L1562.64,1023.27 Z" fill="#00ff00"/>
<path d="M1603.59,1006.67 L1620.79,1006.67 L1612.19,1022.07 Z" fill="#00ff00"/>
<rect x="968.0" y="756.6" width="743.30" height="600.20" fill="none" stroke="#000" stroke-width="2.6"/>
<line x1="968.00" y1="1356.80" x2="968.00" y2="1367.80" stroke="#000" stroke-width="2.6" stroke-linecap="round"/>
<text transform="translate(968.00,1402.00) scale(1,1.06)" text-anchor="middle" font-size="32.3">0.0</text>
<line x1="1017.55" y1="1356.80" x2="1017.55" y2="1361.40" stroke="#000" stroke-width="2.6" stroke-linecap="round"/>
<line x1="1067.11" y1="1356.80" x2="1067.11" y2="1367.80" stroke="#000" stroke-width="2.6" stroke-linecap="round"/>
<text transform="translate(1067.11,1402.00) scale(1,1.06)" text-anchor="middle" font-size="32.3">0.1</text>
<line x1="1116.66" y1="1356.80" x2="1116.66" y2="1361.40" stroke="#000" stroke-width="2.6" stroke-linecap="round"/>
<line x1="1166.21" y1="1356.80" x2="1166.21" y2="1367.80" stroke="#000" stroke-width="2.6" stroke-linecap="round"/>
<text transform="translate(1166.21,1402.00) scale(1,1.06)" text-anchor="middle" font-size="32.3">0.2</text>
<line x1="1215.77" y1="1356.80" x2="1215.77" y2="1361.40" stroke="#000" stroke-width="2.6" stroke-linecap="round"/>
<line x1="1265.32" y1="1356.80" x2="1265.32" y2="1367.80" stroke="#000" stroke-width="2.6" stroke-linecap="round"/>
<text transform="translate(1265.32,1402.00) scale(1,1.06)" text-anchor="middle" font-size="32.3">0.3</text>
<line x1="1314.87" y1="1356.80" x2="1314.87" y2="1361.40" stroke="#000" stroke-width="2.6" stroke-linecap="round"/>
<line x1="1364.43" y1="1356.80" x2="1364.43" y2="1367.80" stroke="#000" stroke-width="2.6" stroke-linecap="round"/>
<text transform="translate(1364.43,1402.00) scale(1,1.06)" text-anchor="middle" font-size="32.3">0.4</text>
<line x1="1413.98" y1="1356.80" x2="1413.98" y2="1361.40" stroke="#000" stroke-width="2.6" stroke-linecap="round"/>
<line x1="1463.53" y1="1356.80" x2="1463.53" y2="1367.80" stroke="#000" stroke-width="2.6" stroke-linecap="round"/>
<text transform="translate(1463.53,1402.00) scale(1,1.06)" text-anchor="middle" font-size="32.3">0.5</text>
<line x1="1513.09" y1="1356.80" x2="1513.09" y2="1361.40" stroke="#000" stroke-width="2.6" stroke-linecap="round"/>
<line x1="1562.64" y1="1356.80" x2="1562.64" y2="1367.80" stroke="#000" stroke-width="2.6" stroke-linecap="round"/>
<text transform="translate(1562.64,1402.00) scale(1,1.06)" text-anchor="middle" font-size="32.3">0.6</text>
<line x1="1612.19" y1="1356.80" x2="1612.19" y2="1361.40" stroke="#000" stroke-width="2.6" stroke-linecap="round"/>
<line x1="1661.75" y1="1356.80" x2="1661.75" y2="1367.80" stroke="#000" stroke-width="2.6" stroke-linecap="round"/>
<text transform="translate(1661.75,1402.00) scale(1,1.06)" text-anchor="middle" font-size="32.3">0.7</text>
<line x1="1711.30" y1="1356.80" x2="1711.30" y2="1361.40" stroke="#000" stroke-width="2.6" stroke-linecap="round"/>
<line x1="957.00" y1="1356.80" x2="968.00" y2="1356.80" stroke="#000" stroke-width="2.6" stroke-linecap="round"/>
<text transform="translate(947.70,1367.80) scale(1,1.06)" text-anchor="end" font-size="32.3">0</text>
<line x1="963.40" y1="1296.78" x2="968.00" y2="1296.78" stroke="#000" stroke-width="2.6" stroke-linecap="round"/>
<line x1="957.00" y1="1236.76" x2="968.00" y2="1236.76" stroke="#000" stroke-width="2.6" stroke-linecap="round"/>
<text transform="translate(947.70,1247.76) scale(1,1.06)" text-anchor="end" font-size="32.3">20</text>
<line x1="963.40" y1="1176.74" x2="968.00" y2="1176.74" stroke="#000" stroke-width="2.6" stroke-linecap="round"/>
<line x1="957.00" y1="1116.72" x2="968.00" y2="1116.72" stroke="#000" stroke-width="2.6" stroke-linecap="round"/>
<text transform="translate(947.70,1127.72) scale(1,1.06)" text-anchor="end" font-size="32.3">40</text>
<line x1="963.40" y1="1056.70" x2="968.00" y2="1056.70" stroke="#000" stroke-width="2.6" stroke-linecap="round"/>
<line x1="957.00" y1="996.68" x2="968.00" y2="996.68" stroke="#000" stroke-width="2.6" stroke-linecap="round"/>
<text transform="translate(947.70,1007.68) scale(1,1.06)" text-anchor="end" font-size="32.3">60</text>
<line x1="963.40" y1="936.66" x2="968.00" y2="936.66" stroke="#000" stroke-width="2.6" stroke-linecap="round"/>
<line x1="957.00" y1="876.64" x2="968.00" y2="876.64" stroke="#000" stroke-width="2.6" stroke-linecap="round"/>
<text transform="translate(947.70,887.64) scale(1,1.06)" text-anchor="end" font-size="32.3">80</text>
<line x1="963.40" y1="816.62" x2="968.00" y2="816.62" stroke="#000" stroke-width="2.6" stroke-linecap="round"/>
<line x1="957.00" y1="756.60" x2="968.00" y2="756.60" stroke="#000" stroke-width="2.6" stroke-linecap="round"/>
<text transform="translate(947.70,767.60) scale(1,1.06)" text-anchor="end" font-size="32.3">100</text>
<text x="1339.65" y="1452.50" text-anchor="middle" font-size="32">True strain</text>
<text transform="translate(888.80,1056.70) rotate(-90)" x="0" y="0" text-anchor="middle" font-size="32">True stress (MPa)</text>
<text transform="translate(872.80,806.60) scale(0.9,1)" x="0" y="0" font-size="48">(d)</text>
<line x1="975.50" y1="786.30" x2="1045.40" y2="786.30" stroke="#555555" stroke-width="2.6"/>
<text transform="translate(1051.80,797.10) scale(1,1.06)" font-size="32.3">380<tspan font-family="'Liberation Serif','Noto Sans CJK SC',sans-serif" font-weight="300" font-size="30">℃</tspan></text>
<line x1="975.50" y1="824.70" x2="1045.40" y2="824.70" stroke="#f44a4a" stroke-width="2.6"/>
<text transform="translate(1051.80,835.50) scale(1,1.06)" font-size="32.3">410<tspan font-family="'Liberation Serif','Noto Sans CJK SC',sans-serif" font-weight="300" font-size="30">℃</tspan></text>
<line x1="975.50" y1="863.20" x2="1045.40" y2="863.20" stroke="#2f7ee6" stroke-width="2.6"/>
<text transform="translate(1051.80,874.00) scale(1,1.06)" font-size="32.3">440<tspan font-family="'Liberation Serif','Noto Sans CJK SC',sans-serif" font-weight="300" font-size="30">℃</tspan></text>
<line x1="975.50" y1="901.80" x2="1045.40" y2="901.80" stroke="#45b475" stroke-width="2.6"/>
<text transform="translate(1051.80,912.60) scale(1,1.06)" font-size="32.3">470<tspan font-family="'Liberation Serif','Noto Sans CJK SC',sans-serif" font-weight="300" font-size="30">℃</tspan></text>
<line x1="1442.80" y1="1217.00" x2="1515.00" y2="1217.00" stroke="#000000" stroke-width="2.2"/>
<text x="1513.80" y="1227.50" font-size="32">exp</text>
<line x1="1559.80" y1="1217.00" x2="1584.40" y2="1217.00" stroke="#000000" stroke-width="2.2"/>
<line x1="1605.80" y1="1217.00" x2="1631.20" y2="1217.00" stroke="#000000" stroke-width="2.2"/>
<rect x="1588.20" y="1210.10" width="13.80" height="13.80" fill="#000000"/>
<text x="1630.10" y="1227.50" font-size="32">cal</text>
<line x1="1442.80" y1="1256.30" x2="1515.00" y2="1256.30" stroke="#ff0000" stroke-width="2.2"/>
<text x="1513.80" y="1266.80" font-size="32">exp</text>
<line x1="1559.80" y1="1256.30" x2="1584.40" y2="1256.30" stroke="#ff0000" stroke-width="2.2"/>
<line x1="1605.80" y1="1256.30" x2="1631.20" y2="1256.30" stroke="#ff0000" stroke-width="2.2"/>
<circle cx="1595.10" cy="1256.30" r="8.00" fill="#ff0000"/>
<text x="1630.10" y="1266.80" font-size="32">cal</text>
<line x1="1442.80" y1="1294.20" x2="1515.00" y2="1294.20" stroke="#0000ff" stroke-width="2.2"/>
<text x="1513.80" y="1304.70" font-size="32">exp</text>
<line x1="1559.80" y1="1294.20" x2="1584.40" y2="1294.20" stroke="#0000ff" stroke-width="2.2"/>
<line x1="1605.80" y1="1294.20" x2="1631.20" y2="1294.20" stroke="#0000ff" stroke-width="2.2"/>
<path d="M1595.10,1283.87 L1604.60,1299.37 L1585.60,1299.37 Z" fill="#0000ff"/>
<text x="1630.10" y="1304.70" font-size="32">cal</text>
<line x1="1442.80" y1="1332.90" x2="1515.00" y2="1332.90" stroke="#00ff00" stroke-width="2.2"/>
<text x="1513.80" y="1343.40" font-size="32">exp</text>
<line x1="1559.80" y1="1332.90" x2="1584.40" y2="1332.90" stroke="#00ff00" stroke-width="2.2"/>
<line x1="1605.80" y1="1332.90" x2="1631.20" y2="1332.90" stroke="#00ff00" stroke-width="2.2"/>
<path d="M1585.60,1327.73 L1604.60,1327.73 L1595.10,1343.23 Z" fill="#00ff00"/>
<text x="1630.10" y="1343.40" font-size="32">cal</text>
</svg>
</body></html>
